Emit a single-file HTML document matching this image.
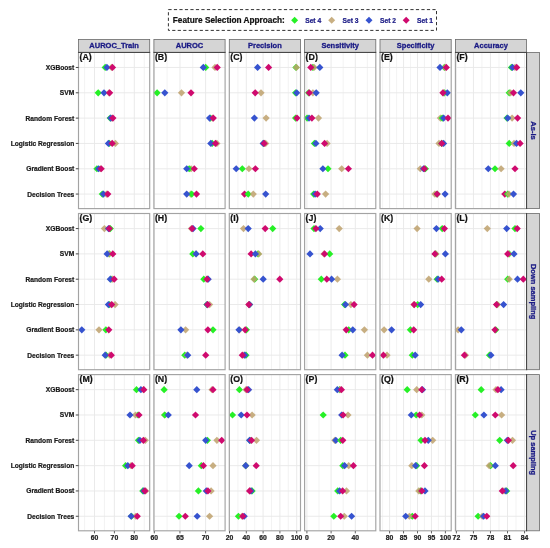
<!DOCTYPE html><html><head><meta charset="utf-8"><style>html,body{margin:0;padding:0;background:#fff;}svg{display:block;}text{font-family:"Liberation Sans",Arial,sans-serif;font-weight:bold;stroke-width:0.22px;}</style></head><body>
<svg width="550" height="548" viewBox="0 0 550 548">
<rect width="550" height="548" fill="#fff"/>
<rect x="168.4" y="9.6" width="268.1" height="20.8" fill="none" stroke="#333" stroke-width="1.0" stroke-dasharray="3.2 2.3"/>
<text x="172.8" y="23.2" font-size="8.25" fill="#111" stroke="#111">Feature Selection Approach:</text>
<path d="M294.60 16.70l3.5 3.5l-3.5 3.5l-3.5 -3.5z" fill="#26f026"/>
<text x="305.20" y="22.9" font-size="6.7" fill="#1a1a85" stroke="#1a1a85">Set 4</text>
<path d="M331.70 16.70l3.5 3.5l-3.5 3.5l-3.5 -3.5z" fill="#bea16c" fill-opacity="0.85"/>
<text x="342.60" y="22.9" font-size="6.7" fill="#1a1a85" stroke="#1a1a85">Set 3</text>
<path d="M369.00 16.70l3.5 3.5l-3.5 3.5l-3.5 -3.5z" fill="#3653cf"/>
<text x="380.10" y="22.9" font-size="6.7" fill="#1a1a85" stroke="#1a1a85">Set 2</text>
<path d="M406.20 16.70l3.5 3.5l-3.5 3.5l-3.5 -3.5z" fill="#cf0a6e"/>
<text x="417.00" y="22.9" font-size="6.7" fill="#1a1a85" stroke="#1a1a85">Set 1</text>
<g>
<rect x="78.50" y="52.40" width="71.20" height="156.20" fill="#fff"/>
<line x1="84.55" y1="52.40" x2="84.55" y2="208.60" stroke="#f0f0f0" stroke-width="0.8"/>
<line x1="104.45" y1="52.40" x2="104.45" y2="208.60" stroke="#f0f0f0" stroke-width="0.8"/>
<line x1="124.35" y1="52.40" x2="124.35" y2="208.60" stroke="#f0f0f0" stroke-width="0.8"/>
<line x1="144.25" y1="52.40" x2="144.25" y2="208.60" stroke="#f0f0f0" stroke-width="0.8"/>
<line x1="94.50" y1="52.40" x2="94.50" y2="208.60" stroke="#e8e8e8" stroke-width="0.9"/>
<line x1="114.40" y1="52.40" x2="114.40" y2="208.60" stroke="#e8e8e8" stroke-width="0.9"/>
<line x1="134.30" y1="52.40" x2="134.30" y2="208.60" stroke="#e8e8e8" stroke-width="0.9"/>
<line x1="78.50" y1="67.47" x2="149.70" y2="67.47" stroke="#e8e8e8" stroke-width="0.9"/>
<line x1="78.50" y1="92.79" x2="149.70" y2="92.79" stroke="#e8e8e8" stroke-width="0.9"/>
<line x1="78.50" y1="118.11" x2="149.70" y2="118.11" stroke="#e8e8e8" stroke-width="0.9"/>
<line x1="78.50" y1="143.43" x2="149.70" y2="143.43" stroke="#e8e8e8" stroke-width="0.9"/>
<line x1="78.50" y1="168.75" x2="149.70" y2="168.75" stroke="#e8e8e8" stroke-width="0.9"/>
<line x1="78.50" y1="194.07" x2="149.70" y2="194.07" stroke="#e8e8e8" stroke-width="0.9"/>
<g>
<path d="M105.20 63.87l3.6 3.6l-3.6 3.6l-3.6 -3.6z" fill="#26f026"/>
<path d="M111.50 63.87l3.6 3.6l-3.6 3.6l-3.6 -3.6z" fill="#bea16c" fill-opacity="0.85"/>
<path d="M106.90 63.87l3.6 3.6l-3.6 3.6l-3.6 -3.6z" fill="#3653cf"/>
<path d="M112.50 63.87l3.6 3.6l-3.6 3.6l-3.6 -3.6z" fill="#cf0a6e"/>
<path d="M98.20 89.19l3.6 3.6l-3.6 3.6l-3.6 -3.6z" fill="#26f026"/>
<path d="M109.00 89.19l3.6 3.6l-3.6 3.6l-3.6 -3.6z" fill="#bea16c" fill-opacity="0.85"/>
<path d="M104.00 89.19l3.6 3.6l-3.6 3.6l-3.6 -3.6z" fill="#3653cf"/>
<path d="M109.60 89.19l3.6 3.6l-3.6 3.6l-3.6 -3.6z" fill="#cf0a6e"/>
<path d="M110.20 114.51l3.6 3.6l-3.6 3.6l-3.6 -3.6z" fill="#26f026"/>
<path d="M112.00 114.51l3.6 3.6l-3.6 3.6l-3.6 -3.6z" fill="#bea16c" fill-opacity="0.85"/>
<path d="M110.70 114.51l3.6 3.6l-3.6 3.6l-3.6 -3.6z" fill="#3653cf"/>
<path d="M112.90 114.51l3.6 3.6l-3.6 3.6l-3.6 -3.6z" fill="#cf0a6e"/>
<path d="M109.30 139.83l3.6 3.6l-3.6 3.6l-3.6 -3.6z" fill="#26f026"/>
<path d="M115.40 139.83l3.6 3.6l-3.6 3.6l-3.6 -3.6z" fill="#bea16c" fill-opacity="0.85"/>
<path d="M108.40 139.83l3.6 3.6l-3.6 3.6l-3.6 -3.6z" fill="#3653cf"/>
<path d="M112.20 139.83l3.6 3.6l-3.6 3.6l-3.6 -3.6z" fill="#cf0a6e"/>
<path d="M96.90 165.15l3.6 3.6l-3.6 3.6l-3.6 -3.6z" fill="#26f026"/>
<path d="M100.50 165.15l3.6 3.6l-3.6 3.6l-3.6 -3.6z" fill="#bea16c" fill-opacity="0.85"/>
<path d="M98.60 165.15l3.6 3.6l-3.6 3.6l-3.6 -3.6z" fill="#3653cf"/>
<path d="M101.20 165.15l3.6 3.6l-3.6 3.6l-3.6 -3.6z" fill="#cf0a6e"/>
<path d="M102.30 190.47l3.6 3.6l-3.6 3.6l-3.6 -3.6z" fill="#26f026"/>
<path d="M106.50 190.47l3.6 3.6l-3.6 3.6l-3.6 -3.6z" fill="#bea16c" fill-opacity="0.85"/>
<path d="M103.40 190.47l3.6 3.6l-3.6 3.6l-3.6 -3.6z" fill="#3653cf"/>
<path d="M107.80 190.47l3.6 3.6l-3.6 3.6l-3.6 -3.6z" fill="#cf0a6e"/>
</g>
<rect x="78.50" y="52.40" width="71.20" height="156.20" fill="none" stroke="#a3a3a3" stroke-width="1.15"/>
<text x="79.50" y="59.80" font-size="8.8" fill="#111" stroke="#111">(A)</text>
</g>
<g>
<rect x="153.90" y="52.40" width="71.20" height="156.20" fill="#fff"/>
<line x1="167.12" y1="52.40" x2="167.12" y2="208.60" stroke="#f0f0f0" stroke-width="0.8"/>
<line x1="192.78" y1="52.40" x2="192.78" y2="208.60" stroke="#f0f0f0" stroke-width="0.8"/>
<line x1="218.43" y1="52.40" x2="218.43" y2="208.60" stroke="#f0f0f0" stroke-width="0.8"/>
<line x1="154.30" y1="52.40" x2="154.30" y2="208.60" stroke="#e8e8e8" stroke-width="0.9"/>
<line x1="179.95" y1="52.40" x2="179.95" y2="208.60" stroke="#e8e8e8" stroke-width="0.9"/>
<line x1="205.60" y1="52.40" x2="205.60" y2="208.60" stroke="#e8e8e8" stroke-width="0.9"/>
<line x1="153.90" y1="67.47" x2="225.10" y2="67.47" stroke="#e8e8e8" stroke-width="0.9"/>
<line x1="153.90" y1="92.79" x2="225.10" y2="92.79" stroke="#e8e8e8" stroke-width="0.9"/>
<line x1="153.90" y1="118.11" x2="225.10" y2="118.11" stroke="#e8e8e8" stroke-width="0.9"/>
<line x1="153.90" y1="143.43" x2="225.10" y2="143.43" stroke="#e8e8e8" stroke-width="0.9"/>
<line x1="153.90" y1="168.75" x2="225.10" y2="168.75" stroke="#e8e8e8" stroke-width="0.9"/>
<line x1="153.90" y1="194.07" x2="225.10" y2="194.07" stroke="#e8e8e8" stroke-width="0.9"/>
<g>
<path d="M205.70 63.87l3.6 3.6l-3.6 3.6l-3.6 -3.6z" fill="#26f026"/>
<path d="M215.00 63.87l3.6 3.6l-3.6 3.6l-3.6 -3.6z" fill="#bea16c" fill-opacity="0.85"/>
<path d="M203.30 63.87l3.6 3.6l-3.6 3.6l-3.6 -3.6z" fill="#3653cf"/>
<path d="M217.20 63.87l3.6 3.6l-3.6 3.6l-3.6 -3.6z" fill="#cf0a6e"/>
<path d="M157.10 89.19l3.6 3.6l-3.6 3.6l-3.6 -3.6z" fill="#26f026"/>
<path d="M181.50 89.19l3.6 3.6l-3.6 3.6l-3.6 -3.6z" fill="#bea16c" fill-opacity="0.85"/>
<path d="M164.80 89.19l3.6 3.6l-3.6 3.6l-3.6 -3.6z" fill="#3653cf"/>
<path d="M191.00 89.19l3.6 3.6l-3.6 3.6l-3.6 -3.6z" fill="#cf0a6e"/>
<path d="M210.50 114.51l3.6 3.6l-3.6 3.6l-3.6 -3.6z" fill="#26f026"/>
<path d="M212.50 114.51l3.6 3.6l-3.6 3.6l-3.6 -3.6z" fill="#bea16c" fill-opacity="0.85"/>
<path d="M209.60 114.51l3.6 3.6l-3.6 3.6l-3.6 -3.6z" fill="#3653cf"/>
<path d="M213.30 114.51l3.6 3.6l-3.6 3.6l-3.6 -3.6z" fill="#cf0a6e"/>
<path d="M212.20 139.83l3.6 3.6l-3.6 3.6l-3.6 -3.6z" fill="#26f026"/>
<path d="M216.90 139.83l3.6 3.6l-3.6 3.6l-3.6 -3.6z" fill="#bea16c" fill-opacity="0.85"/>
<path d="M210.80 139.83l3.6 3.6l-3.6 3.6l-3.6 -3.6z" fill="#3653cf"/>
<path d="M215.50 139.83l3.6 3.6l-3.6 3.6l-3.6 -3.6z" fill="#cf0a6e"/>
<path d="M191.10 165.15l3.6 3.6l-3.6 3.6l-3.6 -3.6z" fill="#bea16c" fill-opacity="0.85"/>
<path d="M189.20 165.15l3.6 3.6l-3.6 3.6l-3.6 -3.6z" fill="#26f026"/>
<path d="M186.70 165.15l3.6 3.6l-3.6 3.6l-3.6 -3.6z" fill="#3653cf"/>
<path d="M194.30 165.15l3.6 3.6l-3.6 3.6l-3.6 -3.6z" fill="#cf0a6e"/>
<path d="M190.70 190.47l3.6 3.6l-3.6 3.6l-3.6 -3.6z" fill="#bea16c" fill-opacity="0.85"/>
<path d="M191.70 190.47l3.6 3.6l-3.6 3.6l-3.6 -3.6z" fill="#26f026"/>
<path d="M186.70 190.47l3.6 3.6l-3.6 3.6l-3.6 -3.6z" fill="#3653cf"/>
<path d="M196.50 190.47l3.6 3.6l-3.6 3.6l-3.6 -3.6z" fill="#cf0a6e"/>
</g>
<rect x="153.90" y="52.40" width="71.20" height="156.20" fill="none" stroke="#a3a3a3" stroke-width="1.15"/>
<text x="154.90" y="59.80" font-size="8.8" fill="#111" stroke="#111">(B)</text>
</g>
<g>
<rect x="229.30" y="52.40" width="71.20" height="156.20" fill="#fff"/>
<line x1="237.90" y1="52.40" x2="237.90" y2="208.60" stroke="#f0f0f0" stroke-width="0.8"/>
<line x1="254.70" y1="52.40" x2="254.70" y2="208.60" stroke="#f0f0f0" stroke-width="0.8"/>
<line x1="271.50" y1="52.40" x2="271.50" y2="208.60" stroke="#f0f0f0" stroke-width="0.8"/>
<line x1="288.30" y1="52.40" x2="288.30" y2="208.60" stroke="#f0f0f0" stroke-width="0.8"/>
<line x1="229.50" y1="52.40" x2="229.50" y2="208.60" stroke="#e8e8e8" stroke-width="0.9"/>
<line x1="246.30" y1="52.40" x2="246.30" y2="208.60" stroke="#e8e8e8" stroke-width="0.9"/>
<line x1="263.10" y1="52.40" x2="263.10" y2="208.60" stroke="#e8e8e8" stroke-width="0.9"/>
<line x1="279.90" y1="52.40" x2="279.90" y2="208.60" stroke="#e8e8e8" stroke-width="0.9"/>
<line x1="296.70" y1="52.40" x2="296.70" y2="208.60" stroke="#e8e8e8" stroke-width="0.9"/>
<line x1="229.30" y1="67.47" x2="300.50" y2="67.47" stroke="#e8e8e8" stroke-width="0.9"/>
<line x1="229.30" y1="92.79" x2="300.50" y2="92.79" stroke="#e8e8e8" stroke-width="0.9"/>
<line x1="229.30" y1="118.11" x2="300.50" y2="118.11" stroke="#e8e8e8" stroke-width="0.9"/>
<line x1="229.30" y1="143.43" x2="300.50" y2="143.43" stroke="#e8e8e8" stroke-width="0.9"/>
<line x1="229.30" y1="168.75" x2="300.50" y2="168.75" stroke="#e8e8e8" stroke-width="0.9"/>
<line x1="229.30" y1="194.07" x2="300.50" y2="194.07" stroke="#e8e8e8" stroke-width="0.9"/>
<g>
<path d="M296.00 63.87l3.6 3.6l-3.6 3.6l-3.6 -3.6z" fill="#26f026"/>
<path d="M296.40 63.87l3.6 3.6l-3.6 3.6l-3.6 -3.6z" fill="#bea16c" fill-opacity="0.85"/>
<path d="M257.60 63.87l3.6 3.6l-3.6 3.6l-3.6 -3.6z" fill="#3653cf"/>
<path d="M268.60 63.87l3.6 3.6l-3.6 3.6l-3.6 -3.6z" fill="#cf0a6e"/>
<path d="M261.00 89.19l3.6 3.6l-3.6 3.6l-3.6 -3.6z" fill="#bea16c" fill-opacity="0.85"/>
<path d="M255.20 89.19l3.6 3.6l-3.6 3.6l-3.6 -3.6z" fill="#cf0a6e"/>
<path d="M295.60 89.19l3.6 3.6l-3.6 3.6l-3.6 -3.6z" fill="#26f026"/>
<path d="M296.70 89.19l3.6 3.6l-3.6 3.6l-3.6 -3.6z" fill="#3653cf"/>
<path d="M295.60 114.51l3.6 3.6l-3.6 3.6l-3.6 -3.6z" fill="#26f026"/>
<path d="M266.10 114.51l3.6 3.6l-3.6 3.6l-3.6 -3.6z" fill="#bea16c" fill-opacity="0.85"/>
<path d="M254.40 114.51l3.6 3.6l-3.6 3.6l-3.6 -3.6z" fill="#3653cf"/>
<path d="M297.00 114.51l3.6 3.6l-3.6 3.6l-3.6 -3.6z" fill="#cf0a6e"/>
<path d="M263.60 139.83l3.6 3.6l-3.6 3.6l-3.6 -3.6z" fill="#26f026"/>
<path d="M263.20 139.83l3.6 3.6l-3.6 3.6l-3.6 -3.6z" fill="#3653cf"/>
<path d="M265.70 139.83l3.6 3.6l-3.6 3.6l-3.6 -3.6z" fill="#bea16c" fill-opacity="0.85"/>
<path d="M264.20 139.83l3.6 3.6l-3.6 3.6l-3.6 -3.6z" fill="#cf0a6e"/>
<path d="M242.30 165.15l3.6 3.6l-3.6 3.6l-3.6 -3.6z" fill="#26f026"/>
<path d="M248.90 165.15l3.6 3.6l-3.6 3.6l-3.6 -3.6z" fill="#bea16c" fill-opacity="0.85"/>
<path d="M236.20 165.15l3.6 3.6l-3.6 3.6l-3.6 -3.6z" fill="#3653cf"/>
<path d="M255.40 165.15l3.6 3.6l-3.6 3.6l-3.6 -3.6z" fill="#cf0a6e"/>
<path d="M244.50 190.47l3.6 3.6l-3.6 3.6l-3.6 -3.6z" fill="#cf0a6e"/>
<path d="M248.20 190.47l3.6 3.6l-3.6 3.6l-3.6 -3.6z" fill="#26f026"/>
<path d="M253.30 190.47l3.6 3.6l-3.6 3.6l-3.6 -3.6z" fill="#bea16c" fill-opacity="0.85"/>
<path d="M265.70 190.47l3.6 3.6l-3.6 3.6l-3.6 -3.6z" fill="#3653cf"/>
</g>
<rect x="229.30" y="52.40" width="71.20" height="156.20" fill="none" stroke="#a3a3a3" stroke-width="1.15"/>
<text x="230.30" y="59.80" font-size="8.8" fill="#111" stroke="#111">(C)</text>
</g>
<g>
<rect x="304.60" y="52.40" width="71.20" height="156.20" fill="#fff"/>
<line x1="319.00" y1="52.40" x2="319.00" y2="208.60" stroke="#f0f0f0" stroke-width="0.8"/>
<line x1="343.20" y1="52.40" x2="343.20" y2="208.60" stroke="#f0f0f0" stroke-width="0.8"/>
<line x1="367.40" y1="52.40" x2="367.40" y2="208.60" stroke="#f0f0f0" stroke-width="0.8"/>
<line x1="306.90" y1="52.40" x2="306.90" y2="208.60" stroke="#e8e8e8" stroke-width="0.9"/>
<line x1="331.10" y1="52.40" x2="331.10" y2="208.60" stroke="#e8e8e8" stroke-width="0.9"/>
<line x1="355.30" y1="52.40" x2="355.30" y2="208.60" stroke="#e8e8e8" stroke-width="0.9"/>
<line x1="304.60" y1="67.47" x2="375.80" y2="67.47" stroke="#e8e8e8" stroke-width="0.9"/>
<line x1="304.60" y1="92.79" x2="375.80" y2="92.79" stroke="#e8e8e8" stroke-width="0.9"/>
<line x1="304.60" y1="118.11" x2="375.80" y2="118.11" stroke="#e8e8e8" stroke-width="0.9"/>
<line x1="304.60" y1="143.43" x2="375.80" y2="143.43" stroke="#e8e8e8" stroke-width="0.9"/>
<line x1="304.60" y1="168.75" x2="375.80" y2="168.75" stroke="#e8e8e8" stroke-width="0.9"/>
<line x1="304.60" y1="194.07" x2="375.80" y2="194.07" stroke="#e8e8e8" stroke-width="0.9"/>
<g>
<path d="M312.90 63.87l3.6 3.6l-3.6 3.6l-3.6 -3.6z" fill="#26f026"/>
<path d="M314.10 63.87l3.6 3.6l-3.6 3.6l-3.6 -3.6z" fill="#bea16c" fill-opacity="0.85"/>
<path d="M319.80 63.87l3.6 3.6l-3.6 3.6l-3.6 -3.6z" fill="#3653cf"/>
<path d="M310.80 63.87l3.6 3.6l-3.6 3.6l-3.6 -3.6z" fill="#cf0a6e"/>
<path d="M308.60 89.19l3.6 3.6l-3.6 3.6l-3.6 -3.6z" fill="#26f026"/>
<path d="M312.90 89.19l3.6 3.6l-3.6 3.6l-3.6 -3.6z" fill="#bea16c" fill-opacity="0.85"/>
<path d="M316.20 89.19l3.6 3.6l-3.6 3.6l-3.6 -3.6z" fill="#3653cf"/>
<path d="M309.30 89.19l3.6 3.6l-3.6 3.6l-3.6 -3.6z" fill="#cf0a6e"/>
<path d="M307.10 114.51l3.6 3.6l-3.6 3.6l-3.6 -3.6z" fill="#26f026"/>
<path d="M318.50 114.51l3.6 3.6l-3.6 3.6l-3.6 -3.6z" fill="#bea16c" fill-opacity="0.85"/>
<path d="M309.00 114.51l3.6 3.6l-3.6 3.6l-3.6 -3.6z" fill="#3653cf"/>
<path d="M311.90 114.51l3.6 3.6l-3.6 3.6l-3.6 -3.6z" fill="#cf0a6e"/>
<path d="M314.40 139.83l3.6 3.6l-3.6 3.6l-3.6 -3.6z" fill="#26f026"/>
<path d="M327.10 139.83l3.6 3.6l-3.6 3.6l-3.6 -3.6z" fill="#bea16c" fill-opacity="0.85"/>
<path d="M315.90 139.83l3.6 3.6l-3.6 3.6l-3.6 -3.6z" fill="#3653cf"/>
<path d="M324.60 139.83l3.6 3.6l-3.6 3.6l-3.6 -3.6z" fill="#cf0a6e"/>
<path d="M328.00 165.15l3.6 3.6l-3.6 3.6l-3.6 -3.6z" fill="#26f026"/>
<path d="M341.70 165.15l3.6 3.6l-3.6 3.6l-3.6 -3.6z" fill="#bea16c" fill-opacity="0.85"/>
<path d="M322.90 165.15l3.6 3.6l-3.6 3.6l-3.6 -3.6z" fill="#3653cf"/>
<path d="M348.40 165.15l3.6 3.6l-3.6 3.6l-3.6 -3.6z" fill="#cf0a6e"/>
<path d="M313.70 190.47l3.6 3.6l-3.6 3.6l-3.6 -3.6z" fill="#26f026"/>
<path d="M325.60 190.47l3.6 3.6l-3.6 3.6l-3.6 -3.6z" fill="#bea16c" fill-opacity="0.85"/>
<path d="M315.10 190.47l3.6 3.6l-3.6 3.6l-3.6 -3.6z" fill="#3653cf"/>
<path d="M317.30 190.47l3.6 3.6l-3.6 3.6l-3.6 -3.6z" fill="#cf0a6e"/>
</g>
<rect x="304.60" y="52.40" width="71.20" height="156.20" fill="none" stroke="#a3a3a3" stroke-width="1.15"/>
<text x="305.60" y="59.80" font-size="8.8" fill="#111" stroke="#111">(D)</text>
</g>
<g>
<rect x="380.00" y="52.40" width="71.20" height="156.20" fill="#fff"/>
<line x1="382.62" y1="52.40" x2="382.62" y2="208.60" stroke="#f0f0f0" stroke-width="0.8"/>
<line x1="396.58" y1="52.40" x2="396.58" y2="208.60" stroke="#f0f0f0" stroke-width="0.8"/>
<line x1="410.53" y1="52.40" x2="410.53" y2="208.60" stroke="#f0f0f0" stroke-width="0.8"/>
<line x1="424.48" y1="52.40" x2="424.48" y2="208.60" stroke="#f0f0f0" stroke-width="0.8"/>
<line x1="438.43" y1="52.40" x2="438.43" y2="208.60" stroke="#f0f0f0" stroke-width="0.8"/>
<line x1="389.60" y1="52.40" x2="389.60" y2="208.60" stroke="#e8e8e8" stroke-width="0.9"/>
<line x1="403.55" y1="52.40" x2="403.55" y2="208.60" stroke="#e8e8e8" stroke-width="0.9"/>
<line x1="417.50" y1="52.40" x2="417.50" y2="208.60" stroke="#e8e8e8" stroke-width="0.9"/>
<line x1="431.45" y1="52.40" x2="431.45" y2="208.60" stroke="#e8e8e8" stroke-width="0.9"/>
<line x1="445.40" y1="52.40" x2="445.40" y2="208.60" stroke="#e8e8e8" stroke-width="0.9"/>
<line x1="380.00" y1="67.47" x2="451.20" y2="67.47" stroke="#e8e8e8" stroke-width="0.9"/>
<line x1="380.00" y1="92.79" x2="451.20" y2="92.79" stroke="#e8e8e8" stroke-width="0.9"/>
<line x1="380.00" y1="118.11" x2="451.20" y2="118.11" stroke="#e8e8e8" stroke-width="0.9"/>
<line x1="380.00" y1="143.43" x2="451.20" y2="143.43" stroke="#e8e8e8" stroke-width="0.9"/>
<line x1="380.00" y1="168.75" x2="451.20" y2="168.75" stroke="#e8e8e8" stroke-width="0.9"/>
<line x1="380.00" y1="194.07" x2="451.20" y2="194.07" stroke="#e8e8e8" stroke-width="0.9"/>
<g>
<path d="M444.40 63.87l3.6 3.6l-3.6 3.6l-3.6 -3.6z" fill="#26f026"/>
<path d="M445.00 63.87l3.6 3.6l-3.6 3.6l-3.6 -3.6z" fill="#bea16c" fill-opacity="0.85"/>
<path d="M440.00 63.87l3.6 3.6l-3.6 3.6l-3.6 -3.6z" fill="#3653cf"/>
<path d="M446.30 63.87l3.6 3.6l-3.6 3.6l-3.6 -3.6z" fill="#cf0a6e"/>
<path d="M444.40 89.19l3.6 3.6l-3.6 3.6l-3.6 -3.6z" fill="#26f026"/>
<path d="M443.50 89.19l3.6 3.6l-3.6 3.6l-3.6 -3.6z" fill="#bea16c" fill-opacity="0.85"/>
<path d="M447.30 89.19l3.6 3.6l-3.6 3.6l-3.6 -3.6z" fill="#3653cf"/>
<path d="M442.90 89.19l3.6 3.6l-3.6 3.6l-3.6 -3.6z" fill="#cf0a6e"/>
<path d="M440.40 114.51l3.6 3.6l-3.6 3.6l-3.6 -3.6z" fill="#bea16c" fill-opacity="0.85"/>
<path d="M442.20 114.51l3.6 3.6l-3.6 3.6l-3.6 -3.6z" fill="#26f026"/>
<path d="M443.60 114.51l3.6 3.6l-3.6 3.6l-3.6 -3.6z" fill="#3653cf"/>
<path d="M448.00 114.51l3.6 3.6l-3.6 3.6l-3.6 -3.6z" fill="#cf0a6e"/>
<path d="M439.00 139.83l3.6 3.6l-3.6 3.6l-3.6 -3.6z" fill="#bea16c" fill-opacity="0.85"/>
<path d="M441.70 139.83l3.6 3.6l-3.6 3.6l-3.6 -3.6z" fill="#26f026"/>
<path d="M443.60 139.83l3.6 3.6l-3.6 3.6l-3.6 -3.6z" fill="#3653cf"/>
<path d="M441.70 139.83l3.6 3.6l-3.6 3.6l-3.6 -3.6z" fill="#cf0a6e"/>
<path d="M420.30 165.15l3.6 3.6l-3.6 3.6l-3.6 -3.6z" fill="#bea16c" fill-opacity="0.85"/>
<path d="M425.40 165.15l3.6 3.6l-3.6 3.6l-3.6 -3.6z" fill="#26f026"/>
<path d="M423.50 165.15l3.6 3.6l-3.6 3.6l-3.6 -3.6z" fill="#3653cf"/>
<path d="M424.40 165.15l3.6 3.6l-3.6 3.6l-3.6 -3.6z" fill="#cf0a6e"/>
<path d="M434.90 190.47l3.6 3.6l-3.6 3.6l-3.6 -3.6z" fill="#bea16c" fill-opacity="0.85"/>
<path d="M437.10 190.47l3.6 3.6l-3.6 3.6l-3.6 -3.6z" fill="#26f026"/>
<path d="M445.10 190.47l3.6 3.6l-3.6 3.6l-3.6 -3.6z" fill="#3653cf"/>
<path d="M437.10 190.47l3.6 3.6l-3.6 3.6l-3.6 -3.6z" fill="#cf0a6e"/>
</g>
<rect x="380.00" y="52.40" width="71.20" height="156.20" fill="none" stroke="#a3a3a3" stroke-width="1.15"/>
<text x="381.00" y="59.80" font-size="8.8" fill="#111" stroke="#111">(E)</text>
</g>
<g>
<rect x="455.40" y="52.40" width="71.20" height="156.20" fill="#fff"/>
<line x1="464.92" y1="52.40" x2="464.92" y2="208.60" stroke="#f0f0f0" stroke-width="0.8"/>
<line x1="481.96" y1="52.40" x2="481.96" y2="208.60" stroke="#f0f0f0" stroke-width="0.8"/>
<line x1="499.00" y1="52.40" x2="499.00" y2="208.60" stroke="#f0f0f0" stroke-width="0.8"/>
<line x1="516.04" y1="52.40" x2="516.04" y2="208.60" stroke="#f0f0f0" stroke-width="0.8"/>
<line x1="456.40" y1="52.40" x2="456.40" y2="208.60" stroke="#e8e8e8" stroke-width="0.9"/>
<line x1="473.44" y1="52.40" x2="473.44" y2="208.60" stroke="#e8e8e8" stroke-width="0.9"/>
<line x1="490.48" y1="52.40" x2="490.48" y2="208.60" stroke="#e8e8e8" stroke-width="0.9"/>
<line x1="507.52" y1="52.40" x2="507.52" y2="208.60" stroke="#e8e8e8" stroke-width="0.9"/>
<line x1="524.56" y1="52.40" x2="524.56" y2="208.60" stroke="#e8e8e8" stroke-width="0.9"/>
<line x1="455.40" y1="67.47" x2="526.60" y2="67.47" stroke="#e8e8e8" stroke-width="0.9"/>
<line x1="455.40" y1="92.79" x2="526.60" y2="92.79" stroke="#e8e8e8" stroke-width="0.9"/>
<line x1="455.40" y1="118.11" x2="526.60" y2="118.11" stroke="#e8e8e8" stroke-width="0.9"/>
<line x1="455.40" y1="143.43" x2="526.60" y2="143.43" stroke="#e8e8e8" stroke-width="0.9"/>
<line x1="455.40" y1="168.75" x2="526.60" y2="168.75" stroke="#e8e8e8" stroke-width="0.9"/>
<line x1="455.40" y1="194.07" x2="526.60" y2="194.07" stroke="#e8e8e8" stroke-width="0.9"/>
<g>
<path d="M511.40 63.87l3.6 3.6l-3.6 3.6l-3.6 -3.6z" fill="#26f026"/>
<path d="M515.00 63.87l3.6 3.6l-3.6 3.6l-3.6 -3.6z" fill="#bea16c" fill-opacity="0.85"/>
<path d="M512.50 63.87l3.6 3.6l-3.6 3.6l-3.6 -3.6z" fill="#3653cf"/>
<path d="M516.70 63.87l3.6 3.6l-3.6 3.6l-3.6 -3.6z" fill="#cf0a6e"/>
<path d="M509.20 89.19l3.6 3.6l-3.6 3.6l-3.6 -3.6z" fill="#26f026"/>
<path d="M510.60 89.19l3.6 3.6l-3.6 3.6l-3.6 -3.6z" fill="#bea16c" fill-opacity="0.85"/>
<path d="M520.80 89.19l3.6 3.6l-3.6 3.6l-3.6 -3.6z" fill="#3653cf"/>
<path d="M513.50 89.19l3.6 3.6l-3.6 3.6l-3.6 -3.6z" fill="#cf0a6e"/>
<path d="M507.00 114.51l3.6 3.6l-3.6 3.6l-3.6 -3.6z" fill="#26f026"/>
<path d="M512.10 114.51l3.6 3.6l-3.6 3.6l-3.6 -3.6z" fill="#bea16c" fill-opacity="0.85"/>
<path d="M507.70 114.51l3.6 3.6l-3.6 3.6l-3.6 -3.6z" fill="#3653cf"/>
<path d="M517.60 114.51l3.6 3.6l-3.6 3.6l-3.6 -3.6z" fill="#cf0a6e"/>
<path d="M509.20 139.83l3.6 3.6l-3.6 3.6l-3.6 -3.6z" fill="#26f026"/>
<path d="M514.00 139.83l3.6 3.6l-3.6 3.6l-3.6 -3.6z" fill="#bea16c" fill-opacity="0.85"/>
<path d="M516.50 139.83l3.6 3.6l-3.6 3.6l-3.6 -3.6z" fill="#3653cf"/>
<path d="M520.10 139.83l3.6 3.6l-3.6 3.6l-3.6 -3.6z" fill="#cf0a6e"/>
<path d="M495.00 165.15l3.6 3.6l-3.6 3.6l-3.6 -3.6z" fill="#26f026"/>
<path d="M501.10 165.15l3.6 3.6l-3.6 3.6l-3.6 -3.6z" fill="#bea16c" fill-opacity="0.85"/>
<path d="M488.30 165.15l3.6 3.6l-3.6 3.6l-3.6 -3.6z" fill="#3653cf"/>
<path d="M515.00 165.15l3.6 3.6l-3.6 3.6l-3.6 -3.6z" fill="#cf0a6e"/>
<path d="M504.80 190.47l3.6 3.6l-3.6 3.6l-3.6 -3.6z" fill="#cf0a6e"/>
<path d="M507.70 190.47l3.6 3.6l-3.6 3.6l-3.6 -3.6z" fill="#26f026"/>
<path d="M508.90 190.47l3.6 3.6l-3.6 3.6l-3.6 -3.6z" fill="#bea16c" fill-opacity="0.85"/>
<path d="M513.50 190.47l3.6 3.6l-3.6 3.6l-3.6 -3.6z" fill="#3653cf"/>
</g>
<rect x="455.40" y="52.40" width="71.20" height="156.20" fill="none" stroke="#a3a3a3" stroke-width="1.15"/>
<text x="456.40" y="59.80" font-size="8.8" fill="#111" stroke="#111">(F)</text>
</g>
<line x1="75.8" y1="67.47" x2="78.5" y2="67.47" stroke="#333" stroke-width="0.9"/>
<text x="74.3" y="69.92" font-size="6.67" fill="#1a1a1a" stroke="#1a1a1a" text-anchor="end">XGBoost</text>
<line x1="75.8" y1="92.79" x2="78.5" y2="92.79" stroke="#333" stroke-width="0.9"/>
<text x="74.3" y="95.24" font-size="6.67" fill="#1a1a1a" stroke="#1a1a1a" text-anchor="end">SVM</text>
<line x1="75.8" y1="118.11" x2="78.5" y2="118.11" stroke="#333" stroke-width="0.9"/>
<text x="74.3" y="120.56" font-size="6.67" fill="#1a1a1a" stroke="#1a1a1a" text-anchor="end">Random Forest</text>
<line x1="75.8" y1="143.43" x2="78.5" y2="143.43" stroke="#333" stroke-width="0.9"/>
<text x="74.3" y="145.88" font-size="6.67" fill="#1a1a1a" stroke="#1a1a1a" text-anchor="end">Logistic Regression</text>
<line x1="75.8" y1="168.75" x2="78.5" y2="168.75" stroke="#333" stroke-width="0.9"/>
<text x="74.3" y="171.20" font-size="6.67" fill="#1a1a1a" stroke="#1a1a1a" text-anchor="end">Gradient Boost</text>
<line x1="75.8" y1="194.07" x2="78.5" y2="194.07" stroke="#333" stroke-width="0.9"/>
<text x="74.3" y="196.52" font-size="6.67" fill="#1a1a1a" stroke="#1a1a1a" text-anchor="end">Decision Trees</text>
<g>
<rect x="78.50" y="213.50" width="71.20" height="156.20" fill="#fff"/>
<line x1="84.55" y1="213.50" x2="84.55" y2="369.70" stroke="#f0f0f0" stroke-width="0.8"/>
<line x1="104.45" y1="213.50" x2="104.45" y2="369.70" stroke="#f0f0f0" stroke-width="0.8"/>
<line x1="124.35" y1="213.50" x2="124.35" y2="369.70" stroke="#f0f0f0" stroke-width="0.8"/>
<line x1="144.25" y1="213.50" x2="144.25" y2="369.70" stroke="#f0f0f0" stroke-width="0.8"/>
<line x1="94.50" y1="213.50" x2="94.50" y2="369.70" stroke="#e8e8e8" stroke-width="0.9"/>
<line x1="114.40" y1="213.50" x2="114.40" y2="369.70" stroke="#e8e8e8" stroke-width="0.9"/>
<line x1="134.30" y1="213.50" x2="134.30" y2="369.70" stroke="#e8e8e8" stroke-width="0.9"/>
<line x1="78.50" y1="228.57" x2="149.70" y2="228.57" stroke="#e8e8e8" stroke-width="0.9"/>
<line x1="78.50" y1="253.89" x2="149.70" y2="253.89" stroke="#e8e8e8" stroke-width="0.9"/>
<line x1="78.50" y1="279.21" x2="149.70" y2="279.21" stroke="#e8e8e8" stroke-width="0.9"/>
<line x1="78.50" y1="304.53" x2="149.70" y2="304.53" stroke="#e8e8e8" stroke-width="0.9"/>
<line x1="78.50" y1="329.85" x2="149.70" y2="329.85" stroke="#e8e8e8" stroke-width="0.9"/>
<line x1="78.50" y1="355.17" x2="149.70" y2="355.17" stroke="#e8e8e8" stroke-width="0.9"/>
<g>
<path d="M104.40 224.97l3.6 3.6l-3.6 3.6l-3.6 -3.6z" fill="#bea16c" fill-opacity="0.85"/>
<path d="M108.50 224.97l3.6 3.6l-3.6 3.6l-3.6 -3.6z" fill="#3653cf"/>
<path d="M110.30 224.97l3.6 3.6l-3.6 3.6l-3.6 -3.6z" fill="#26f026"/>
<path d="M109.30 224.97l3.6 3.6l-3.6 3.6l-3.6 -3.6z" fill="#cf0a6e"/>
<path d="M109.30 250.29l3.6 3.6l-3.6 3.6l-3.6 -3.6z" fill="#26f026"/>
<path d="M109.00 250.29l3.6 3.6l-3.6 3.6l-3.6 -3.6z" fill="#bea16c" fill-opacity="0.85"/>
<path d="M107.10 250.29l3.6 3.6l-3.6 3.6l-3.6 -3.6z" fill="#3653cf"/>
<path d="M112.80 250.29l3.6 3.6l-3.6 3.6l-3.6 -3.6z" fill="#cf0a6e"/>
<path d="M111.00 275.61l3.6 3.6l-3.6 3.6l-3.6 -3.6z" fill="#26f026"/>
<path d="M112.50 275.61l3.6 3.6l-3.6 3.6l-3.6 -3.6z" fill="#bea16c" fill-opacity="0.85"/>
<path d="M110.30 275.61l3.6 3.6l-3.6 3.6l-3.6 -3.6z" fill="#3653cf"/>
<path d="M114.20 275.61l3.6 3.6l-3.6 3.6l-3.6 -3.6z" fill="#cf0a6e"/>
<path d="M109.60 300.93l3.6 3.6l-3.6 3.6l-3.6 -3.6z" fill="#26f026"/>
<path d="M115.10 300.93l3.6 3.6l-3.6 3.6l-3.6 -3.6z" fill="#bea16c" fill-opacity="0.85"/>
<path d="M108.40 300.93l3.6 3.6l-3.6 3.6l-3.6 -3.6z" fill="#3653cf"/>
<path d="M111.70 300.93l3.6 3.6l-3.6 3.6l-3.6 -3.6z" fill="#cf0a6e"/>
<path d="M105.90 326.25l3.6 3.6l-3.6 3.6l-3.6 -3.6z" fill="#26f026"/>
<path d="M99.00 326.25l3.6 3.6l-3.6 3.6l-3.6 -3.6z" fill="#bea16c" fill-opacity="0.85"/>
<path d="M81.80 326.25l3.6 3.6l-3.6 3.6l-3.6 -3.6z" fill="#3653cf"/>
<path d="M108.80 326.25l3.6 3.6l-3.6 3.6l-3.6 -3.6z" fill="#cf0a6e"/>
<path d="M106.00 351.57l3.6 3.6l-3.6 3.6l-3.6 -3.6z" fill="#26f026"/>
<path d="M109.80 351.57l3.6 3.6l-3.6 3.6l-3.6 -3.6z" fill="#bea16c" fill-opacity="0.85"/>
<path d="M105.20 351.57l3.6 3.6l-3.6 3.6l-3.6 -3.6z" fill="#3653cf"/>
<path d="M111.30 351.57l3.6 3.6l-3.6 3.6l-3.6 -3.6z" fill="#cf0a6e"/>
</g>
<rect x="78.50" y="213.50" width="71.20" height="156.20" fill="none" stroke="#a3a3a3" stroke-width="1.15"/>
<text x="79.50" y="220.90" font-size="8.8" fill="#111" stroke="#111">(G)</text>
</g>
<g>
<rect x="153.90" y="213.50" width="71.20" height="156.20" fill="#fff"/>
<line x1="167.12" y1="213.50" x2="167.12" y2="369.70" stroke="#f0f0f0" stroke-width="0.8"/>
<line x1="192.78" y1="213.50" x2="192.78" y2="369.70" stroke="#f0f0f0" stroke-width="0.8"/>
<line x1="218.43" y1="213.50" x2="218.43" y2="369.70" stroke="#f0f0f0" stroke-width="0.8"/>
<line x1="154.30" y1="213.50" x2="154.30" y2="369.70" stroke="#e8e8e8" stroke-width="0.9"/>
<line x1="179.95" y1="213.50" x2="179.95" y2="369.70" stroke="#e8e8e8" stroke-width="0.9"/>
<line x1="205.60" y1="213.50" x2="205.60" y2="369.70" stroke="#e8e8e8" stroke-width="0.9"/>
<line x1="153.90" y1="228.57" x2="225.10" y2="228.57" stroke="#e8e8e8" stroke-width="0.9"/>
<line x1="153.90" y1="253.89" x2="225.10" y2="253.89" stroke="#e8e8e8" stroke-width="0.9"/>
<line x1="153.90" y1="279.21" x2="225.10" y2="279.21" stroke="#e8e8e8" stroke-width="0.9"/>
<line x1="153.90" y1="304.53" x2="225.10" y2="304.53" stroke="#e8e8e8" stroke-width="0.9"/>
<line x1="153.90" y1="329.85" x2="225.10" y2="329.85" stroke="#e8e8e8" stroke-width="0.9"/>
<line x1="153.90" y1="355.17" x2="225.10" y2="355.17" stroke="#e8e8e8" stroke-width="0.9"/>
<g>
<path d="M200.90 224.97l3.6 3.6l-3.6 3.6l-3.6 -3.6z" fill="#26f026"/>
<path d="M191.40 224.97l3.6 3.6l-3.6 3.6l-3.6 -3.6z" fill="#bea16c" fill-opacity="0.85"/>
<path d="M193.10 224.97l3.6 3.6l-3.6 3.6l-3.6 -3.6z" fill="#3653cf"/>
<path d="M192.10 224.97l3.6 3.6l-3.6 3.6l-3.6 -3.6z" fill="#cf0a6e"/>
<path d="M192.80 250.29l3.6 3.6l-3.6 3.6l-3.6 -3.6z" fill="#26f026"/>
<path d="M196.00 250.29l3.6 3.6l-3.6 3.6l-3.6 -3.6z" fill="#bea16c" fill-opacity="0.85"/>
<path d="M196.10 250.29l3.6 3.6l-3.6 3.6l-3.6 -3.6z" fill="#3653cf"/>
<path d="M202.80 250.29l3.6 3.6l-3.6 3.6l-3.6 -3.6z" fill="#cf0a6e"/>
<path d="M203.80 275.61l3.6 3.6l-3.6 3.6l-3.6 -3.6z" fill="#26f026"/>
<path d="M207.50 275.61l3.6 3.6l-3.6 3.6l-3.6 -3.6z" fill="#bea16c" fill-opacity="0.85"/>
<path d="M208.20 275.61l3.6 3.6l-3.6 3.6l-3.6 -3.6z" fill="#3653cf"/>
<path d="M207.00 275.61l3.6 3.6l-3.6 3.6l-3.6 -3.6z" fill="#cf0a6e"/>
<path d="M207.00 300.93l3.6 3.6l-3.6 3.6l-3.6 -3.6z" fill="#26f026"/>
<path d="M207.20 300.93l3.6 3.6l-3.6 3.6l-3.6 -3.6z" fill="#3653cf"/>
<path d="M209.60 300.93l3.6 3.6l-3.6 3.6l-3.6 -3.6z" fill="#bea16c" fill-opacity="0.85"/>
<path d="M207.70 300.93l3.6 3.6l-3.6 3.6l-3.6 -3.6z" fill="#cf0a6e"/>
<path d="M213.00 326.25l3.6 3.6l-3.6 3.6l-3.6 -3.6z" fill="#26f026"/>
<path d="M185.60 326.25l3.6 3.6l-3.6 3.6l-3.6 -3.6z" fill="#bea16c" fill-opacity="0.85"/>
<path d="M180.90 326.25l3.6 3.6l-3.6 3.6l-3.6 -3.6z" fill="#3653cf"/>
<path d="M207.90 326.25l3.6 3.6l-3.6 3.6l-3.6 -3.6z" fill="#cf0a6e"/>
<path d="M184.80 351.57l3.6 3.6l-3.6 3.6l-3.6 -3.6z" fill="#26f026"/>
<path d="M187.00 351.57l3.6 3.6l-3.6 3.6l-3.6 -3.6z" fill="#bea16c" fill-opacity="0.85"/>
<path d="M187.70 351.57l3.6 3.6l-3.6 3.6l-3.6 -3.6z" fill="#3653cf"/>
<path d="M205.70 351.57l3.6 3.6l-3.6 3.6l-3.6 -3.6z" fill="#cf0a6e"/>
</g>
<rect x="153.90" y="213.50" width="71.20" height="156.20" fill="none" stroke="#a3a3a3" stroke-width="1.15"/>
<text x="154.90" y="220.90" font-size="8.8" fill="#111" stroke="#111">(H)</text>
</g>
<g>
<rect x="229.30" y="213.50" width="71.20" height="156.20" fill="#fff"/>
<line x1="237.90" y1="213.50" x2="237.90" y2="369.70" stroke="#f0f0f0" stroke-width="0.8"/>
<line x1="254.70" y1="213.50" x2="254.70" y2="369.70" stroke="#f0f0f0" stroke-width="0.8"/>
<line x1="271.50" y1="213.50" x2="271.50" y2="369.70" stroke="#f0f0f0" stroke-width="0.8"/>
<line x1="288.30" y1="213.50" x2="288.30" y2="369.70" stroke="#f0f0f0" stroke-width="0.8"/>
<line x1="229.50" y1="213.50" x2="229.50" y2="369.70" stroke="#e8e8e8" stroke-width="0.9"/>
<line x1="246.30" y1="213.50" x2="246.30" y2="369.70" stroke="#e8e8e8" stroke-width="0.9"/>
<line x1="263.10" y1="213.50" x2="263.10" y2="369.70" stroke="#e8e8e8" stroke-width="0.9"/>
<line x1="279.90" y1="213.50" x2="279.90" y2="369.70" stroke="#e8e8e8" stroke-width="0.9"/>
<line x1="296.70" y1="213.50" x2="296.70" y2="369.70" stroke="#e8e8e8" stroke-width="0.9"/>
<line x1="229.30" y1="228.57" x2="300.50" y2="228.57" stroke="#e8e8e8" stroke-width="0.9"/>
<line x1="229.30" y1="253.89" x2="300.50" y2="253.89" stroke="#e8e8e8" stroke-width="0.9"/>
<line x1="229.30" y1="279.21" x2="300.50" y2="279.21" stroke="#e8e8e8" stroke-width="0.9"/>
<line x1="229.30" y1="304.53" x2="300.50" y2="304.53" stroke="#e8e8e8" stroke-width="0.9"/>
<line x1="229.30" y1="329.85" x2="300.50" y2="329.85" stroke="#e8e8e8" stroke-width="0.9"/>
<line x1="229.30" y1="355.17" x2="300.50" y2="355.17" stroke="#e8e8e8" stroke-width="0.9"/>
<g>
<path d="M272.70 224.97l3.6 3.6l-3.6 3.6l-3.6 -3.6z" fill="#26f026"/>
<path d="M243.50 224.97l3.6 3.6l-3.6 3.6l-3.6 -3.6z" fill="#bea16c" fill-opacity="0.85"/>
<path d="M248.20 224.97l3.6 3.6l-3.6 3.6l-3.6 -3.6z" fill="#3653cf"/>
<path d="M265.20 224.97l3.6 3.6l-3.6 3.6l-3.6 -3.6z" fill="#cf0a6e"/>
<path d="M258.00 250.29l3.6 3.6l-3.6 3.6l-3.6 -3.6z" fill="#26f026"/>
<path d="M258.80 250.29l3.6 3.6l-3.6 3.6l-3.6 -3.6z" fill="#bea16c" fill-opacity="0.85"/>
<path d="M251.10 250.29l3.6 3.6l-3.6 3.6l-3.6 -3.6z" fill="#cf0a6e"/>
<path d="M255.40 250.29l3.6 3.6l-3.6 3.6l-3.6 -3.6z" fill="#3653cf"/>
<path d="M254.70 275.61l3.6 3.6l-3.6 3.6l-3.6 -3.6z" fill="#26f026"/>
<path d="M254.00 275.61l3.6 3.6l-3.6 3.6l-3.6 -3.6z" fill="#bea16c" fill-opacity="0.85"/>
<path d="M263.20 275.61l3.6 3.6l-3.6 3.6l-3.6 -3.6z" fill="#3653cf"/>
<path d="M279.80 275.61l3.6 3.6l-3.6 3.6l-3.6 -3.6z" fill="#cf0a6e"/>
<path d="M249.50 300.93l3.6 3.6l-3.6 3.6l-3.6 -3.6z" fill="#26f026"/>
<path d="M249.00 300.93l3.6 3.6l-3.6 3.6l-3.6 -3.6z" fill="#bea16c" fill-opacity="0.85"/>
<path d="M249.60 300.93l3.6 3.6l-3.6 3.6l-3.6 -3.6z" fill="#3653cf"/>
<path d="M248.90 300.93l3.6 3.6l-3.6 3.6l-3.6 -3.6z" fill="#cf0a6e"/>
<path d="M246.40 326.25l3.6 3.6l-3.6 3.6l-3.6 -3.6z" fill="#26f026"/>
<path d="M239.50 326.25l3.6 3.6l-3.6 3.6l-3.6 -3.6z" fill="#bea16c" fill-opacity="0.85"/>
<path d="M239.00 326.25l3.6 3.6l-3.6 3.6l-3.6 -3.6z" fill="#3653cf"/>
<path d="M245.20 326.25l3.6 3.6l-3.6 3.6l-3.6 -3.6z" fill="#cf0a6e"/>
<path d="M246.00 351.57l3.6 3.6l-3.6 3.6l-3.6 -3.6z" fill="#26f026"/>
<path d="M244.00 351.57l3.6 3.6l-3.6 3.6l-3.6 -3.6z" fill="#bea16c" fill-opacity="0.85"/>
<path d="M244.80 351.57l3.6 3.6l-3.6 3.6l-3.6 -3.6z" fill="#3653cf"/>
<path d="M242.30 351.57l3.6 3.6l-3.6 3.6l-3.6 -3.6z" fill="#cf0a6e"/>
</g>
<rect x="229.30" y="213.50" width="71.20" height="156.20" fill="none" stroke="#a3a3a3" stroke-width="1.15"/>
<text x="230.30" y="220.90" font-size="8.8" fill="#111" stroke="#111">(I)</text>
</g>
<g>
<rect x="304.60" y="213.50" width="71.20" height="156.20" fill="#fff"/>
<line x1="319.00" y1="213.50" x2="319.00" y2="369.70" stroke="#f0f0f0" stroke-width="0.8"/>
<line x1="343.20" y1="213.50" x2="343.20" y2="369.70" stroke="#f0f0f0" stroke-width="0.8"/>
<line x1="367.40" y1="213.50" x2="367.40" y2="369.70" stroke="#f0f0f0" stroke-width="0.8"/>
<line x1="306.90" y1="213.50" x2="306.90" y2="369.70" stroke="#e8e8e8" stroke-width="0.9"/>
<line x1="331.10" y1="213.50" x2="331.10" y2="369.70" stroke="#e8e8e8" stroke-width="0.9"/>
<line x1="355.30" y1="213.50" x2="355.30" y2="369.70" stroke="#e8e8e8" stroke-width="0.9"/>
<line x1="304.60" y1="228.57" x2="375.80" y2="228.57" stroke="#e8e8e8" stroke-width="0.9"/>
<line x1="304.60" y1="253.89" x2="375.80" y2="253.89" stroke="#e8e8e8" stroke-width="0.9"/>
<line x1="304.60" y1="279.21" x2="375.80" y2="279.21" stroke="#e8e8e8" stroke-width="0.9"/>
<line x1="304.60" y1="304.53" x2="375.80" y2="304.53" stroke="#e8e8e8" stroke-width="0.9"/>
<line x1="304.60" y1="329.85" x2="375.80" y2="329.85" stroke="#e8e8e8" stroke-width="0.9"/>
<line x1="304.60" y1="355.17" x2="375.80" y2="355.17" stroke="#e8e8e8" stroke-width="0.9"/>
<g>
<path d="M314.00 224.97l3.6 3.6l-3.6 3.6l-3.6 -3.6z" fill="#26f026"/>
<path d="M339.20 224.97l3.6 3.6l-3.6 3.6l-3.6 -3.6z" fill="#bea16c" fill-opacity="0.85"/>
<path d="M320.20 224.97l3.6 3.6l-3.6 3.6l-3.6 -3.6z" fill="#3653cf"/>
<path d="M315.90 224.97l3.6 3.6l-3.6 3.6l-3.6 -3.6z" fill="#cf0a6e"/>
<path d="M329.70 250.29l3.6 3.6l-3.6 3.6l-3.6 -3.6z" fill="#26f026"/>
<path d="M324.00 250.29l3.6 3.6l-3.6 3.6l-3.6 -3.6z" fill="#bea16c" fill-opacity="0.85"/>
<path d="M310.00 250.29l3.6 3.6l-3.6 3.6l-3.6 -3.6z" fill="#3653cf"/>
<path d="M324.60 250.29l3.6 3.6l-3.6 3.6l-3.6 -3.6z" fill="#cf0a6e"/>
<path d="M321.30 275.61l3.6 3.6l-3.6 3.6l-3.6 -3.6z" fill="#26f026"/>
<path d="M337.40 275.61l3.6 3.6l-3.6 3.6l-3.6 -3.6z" fill="#bea16c" fill-opacity="0.85"/>
<path d="M331.60 275.61l3.6 3.6l-3.6 3.6l-3.6 -3.6z" fill="#3653cf"/>
<path d="M326.80 275.61l3.6 3.6l-3.6 3.6l-3.6 -3.6z" fill="#cf0a6e"/>
<path d="M344.60 300.93l3.6 3.6l-3.6 3.6l-3.6 -3.6z" fill="#26f026"/>
<path d="M350.90 300.93l3.6 3.6l-3.6 3.6l-3.6 -3.6z" fill="#bea16c" fill-opacity="0.85"/>
<path d="M345.50 300.93l3.6 3.6l-3.6 3.6l-3.6 -3.6z" fill="#3653cf"/>
<path d="M354.10 300.93l3.6 3.6l-3.6 3.6l-3.6 -3.6z" fill="#cf0a6e"/>
<path d="M348.70 326.25l3.6 3.6l-3.6 3.6l-3.6 -3.6z" fill="#26f026"/>
<path d="M364.40 326.25l3.6 3.6l-3.6 3.6l-3.6 -3.6z" fill="#bea16c" fill-opacity="0.85"/>
<path d="M346.20 326.25l3.6 3.6l-3.6 3.6l-3.6 -3.6z" fill="#cf0a6e"/>
<path d="M352.80 326.25l3.6 3.6l-3.6 3.6l-3.6 -3.6z" fill="#3653cf"/>
<path d="M345.00 351.57l3.6 3.6l-3.6 3.6l-3.6 -3.6z" fill="#26f026"/>
<path d="M367.40 351.57l3.6 3.6l-3.6 3.6l-3.6 -3.6z" fill="#bea16c" fill-opacity="0.85"/>
<path d="M342.10 351.57l3.6 3.6l-3.6 3.6l-3.6 -3.6z" fill="#3653cf"/>
<path d="M372.50 351.57l3.6 3.6l-3.6 3.6l-3.6 -3.6z" fill="#cf0a6e"/>
</g>
<rect x="304.60" y="213.50" width="71.20" height="156.20" fill="none" stroke="#a3a3a3" stroke-width="1.15"/>
<text x="305.60" y="220.90" font-size="8.8" fill="#111" stroke="#111">(J)</text>
</g>
<g>
<rect x="380.00" y="213.50" width="71.20" height="156.20" fill="#fff"/>
<line x1="382.62" y1="213.50" x2="382.62" y2="369.70" stroke="#f0f0f0" stroke-width="0.8"/>
<line x1="396.58" y1="213.50" x2="396.58" y2="369.70" stroke="#f0f0f0" stroke-width="0.8"/>
<line x1="410.53" y1="213.50" x2="410.53" y2="369.70" stroke="#f0f0f0" stroke-width="0.8"/>
<line x1="424.48" y1="213.50" x2="424.48" y2="369.70" stroke="#f0f0f0" stroke-width="0.8"/>
<line x1="438.43" y1="213.50" x2="438.43" y2="369.70" stroke="#f0f0f0" stroke-width="0.8"/>
<line x1="389.60" y1="213.50" x2="389.60" y2="369.70" stroke="#e8e8e8" stroke-width="0.9"/>
<line x1="403.55" y1="213.50" x2="403.55" y2="369.70" stroke="#e8e8e8" stroke-width="0.9"/>
<line x1="417.50" y1="213.50" x2="417.50" y2="369.70" stroke="#e8e8e8" stroke-width="0.9"/>
<line x1="431.45" y1="213.50" x2="431.45" y2="369.70" stroke="#e8e8e8" stroke-width="0.9"/>
<line x1="445.40" y1="213.50" x2="445.40" y2="369.70" stroke="#e8e8e8" stroke-width="0.9"/>
<line x1="380.00" y1="228.57" x2="451.20" y2="228.57" stroke="#e8e8e8" stroke-width="0.9"/>
<line x1="380.00" y1="253.89" x2="451.20" y2="253.89" stroke="#e8e8e8" stroke-width="0.9"/>
<line x1="380.00" y1="279.21" x2="451.20" y2="279.21" stroke="#e8e8e8" stroke-width="0.9"/>
<line x1="380.00" y1="304.53" x2="451.20" y2="304.53" stroke="#e8e8e8" stroke-width="0.9"/>
<line x1="380.00" y1="329.85" x2="451.20" y2="329.85" stroke="#e8e8e8" stroke-width="0.9"/>
<line x1="380.00" y1="355.17" x2="451.20" y2="355.17" stroke="#e8e8e8" stroke-width="0.9"/>
<g>
<path d="M442.20 224.97l3.6 3.6l-3.6 3.6l-3.6 -3.6z" fill="#26f026"/>
<path d="M417.10 224.97l3.6 3.6l-3.6 3.6l-3.6 -3.6z" fill="#bea16c" fill-opacity="0.85"/>
<path d="M436.40 224.97l3.6 3.6l-3.6 3.6l-3.6 -3.6z" fill="#3653cf"/>
<path d="M444.40 224.97l3.6 3.6l-3.6 3.6l-3.6 -3.6z" fill="#cf0a6e"/>
<path d="M435.50 250.29l3.6 3.6l-3.6 3.6l-3.6 -3.6z" fill="#26f026"/>
<path d="M436.00 250.29l3.6 3.6l-3.6 3.6l-3.6 -3.6z" fill="#bea16c" fill-opacity="0.85"/>
<path d="M445.40 250.29l3.6 3.6l-3.6 3.6l-3.6 -3.6z" fill="#3653cf"/>
<path d="M434.90 250.29l3.6 3.6l-3.6 3.6l-3.6 -3.6z" fill="#cf0a6e"/>
<path d="M437.10 275.61l3.6 3.6l-3.6 3.6l-3.6 -3.6z" fill="#26f026"/>
<path d="M428.80 275.61l3.6 3.6l-3.6 3.6l-3.6 -3.6z" fill="#bea16c" fill-opacity="0.85"/>
<path d="M438.10 275.61l3.6 3.6l-3.6 3.6l-3.6 -3.6z" fill="#3653cf"/>
<path d="M441.70 275.61l3.6 3.6l-3.6 3.6l-3.6 -3.6z" fill="#cf0a6e"/>
<path d="M417.70 300.93l3.6 3.6l-3.6 3.6l-3.6 -3.6z" fill="#26f026"/>
<path d="M414.00 300.93l3.6 3.6l-3.6 3.6l-3.6 -3.6z" fill="#bea16c" fill-opacity="0.85"/>
<path d="M420.70 300.93l3.6 3.6l-3.6 3.6l-3.6 -3.6z" fill="#3653cf"/>
<path d="M414.20 300.93l3.6 3.6l-3.6 3.6l-3.6 -3.6z" fill="#cf0a6e"/>
<path d="M410.40 326.25l3.6 3.6l-3.6 3.6l-3.6 -3.6z" fill="#26f026"/>
<path d="M384.10 326.25l3.6 3.6l-3.6 3.6l-3.6 -3.6z" fill="#bea16c" fill-opacity="0.85"/>
<path d="M391.60 326.25l3.6 3.6l-3.6 3.6l-3.6 -3.6z" fill="#3653cf"/>
<path d="M413.70 326.25l3.6 3.6l-3.6 3.6l-3.6 -3.6z" fill="#cf0a6e"/>
<path d="M412.30 351.57l3.6 3.6l-3.6 3.6l-3.6 -3.6z" fill="#26f026"/>
<path d="M387.00 351.57l3.6 3.6l-3.6 3.6l-3.6 -3.6z" fill="#bea16c" fill-opacity="0.85"/>
<path d="M415.20 351.57l3.6 3.6l-3.6 3.6l-3.6 -3.6z" fill="#3653cf"/>
<path d="M383.40 351.57l3.6 3.6l-3.6 3.6l-3.6 -3.6z" fill="#cf0a6e"/>
</g>
<rect x="380.00" y="213.50" width="71.20" height="156.20" fill="none" stroke="#a3a3a3" stroke-width="1.15"/>
<text x="381.00" y="220.90" font-size="8.8" fill="#111" stroke="#111">(K)</text>
</g>
<g>
<rect x="455.40" y="213.50" width="71.20" height="156.20" fill="#fff"/>
<line x1="464.92" y1="213.50" x2="464.92" y2="369.70" stroke="#f0f0f0" stroke-width="0.8"/>
<line x1="481.96" y1="213.50" x2="481.96" y2="369.70" stroke="#f0f0f0" stroke-width="0.8"/>
<line x1="499.00" y1="213.50" x2="499.00" y2="369.70" stroke="#f0f0f0" stroke-width="0.8"/>
<line x1="516.04" y1="213.50" x2="516.04" y2="369.70" stroke="#f0f0f0" stroke-width="0.8"/>
<line x1="456.40" y1="213.50" x2="456.40" y2="369.70" stroke="#e8e8e8" stroke-width="0.9"/>
<line x1="473.44" y1="213.50" x2="473.44" y2="369.70" stroke="#e8e8e8" stroke-width="0.9"/>
<line x1="490.48" y1="213.50" x2="490.48" y2="369.70" stroke="#e8e8e8" stroke-width="0.9"/>
<line x1="507.52" y1="213.50" x2="507.52" y2="369.70" stroke="#e8e8e8" stroke-width="0.9"/>
<line x1="524.56" y1="213.50" x2="524.56" y2="369.70" stroke="#e8e8e8" stroke-width="0.9"/>
<line x1="455.40" y1="228.57" x2="526.60" y2="228.57" stroke="#e8e8e8" stroke-width="0.9"/>
<line x1="455.40" y1="253.89" x2="526.60" y2="253.89" stroke="#e8e8e8" stroke-width="0.9"/>
<line x1="455.40" y1="279.21" x2="526.60" y2="279.21" stroke="#e8e8e8" stroke-width="0.9"/>
<line x1="455.40" y1="304.53" x2="526.60" y2="304.53" stroke="#e8e8e8" stroke-width="0.9"/>
<line x1="455.40" y1="329.85" x2="526.60" y2="329.85" stroke="#e8e8e8" stroke-width="0.9"/>
<line x1="455.40" y1="355.17" x2="526.60" y2="355.17" stroke="#e8e8e8" stroke-width="0.9"/>
<g>
<path d="M515.00 224.97l3.6 3.6l-3.6 3.6l-3.6 -3.6z" fill="#26f026"/>
<path d="M487.30 224.97l3.6 3.6l-3.6 3.6l-3.6 -3.6z" fill="#bea16c" fill-opacity="0.85"/>
<path d="M506.70 224.97l3.6 3.6l-3.6 3.6l-3.6 -3.6z" fill="#3653cf"/>
<path d="M517.20 224.97l3.6 3.6l-3.6 3.6l-3.6 -3.6z" fill="#cf0a6e"/>
<path d="M509.20 250.29l3.6 3.6l-3.6 3.6l-3.6 -3.6z" fill="#26f026"/>
<path d="M508.50 250.29l3.6 3.6l-3.6 3.6l-3.6 -3.6z" fill="#bea16c" fill-opacity="0.85"/>
<path d="M514.00 250.29l3.6 3.6l-3.6 3.6l-3.6 -3.6z" fill="#3653cf"/>
<path d="M507.70 250.29l3.6 3.6l-3.6 3.6l-3.6 -3.6z" fill="#cf0a6e"/>
<path d="M507.70 275.61l3.6 3.6l-3.6 3.6l-3.6 -3.6z" fill="#26f026"/>
<path d="M509.20 275.61l3.6 3.6l-3.6 3.6l-3.6 -3.6z" fill="#bea16c" fill-opacity="0.85"/>
<path d="M517.50 275.61l3.6 3.6l-3.6 3.6l-3.6 -3.6z" fill="#3653cf"/>
<path d="M523.30 275.61l3.6 3.6l-3.6 3.6l-3.6 -3.6z" fill="#cf0a6e"/>
<path d="M497.00 300.93l3.6 3.6l-3.6 3.6l-3.6 -3.6z" fill="#26f026"/>
<path d="M497.50 300.93l3.6 3.6l-3.6 3.6l-3.6 -3.6z" fill="#bea16c" fill-opacity="0.85"/>
<path d="M503.60 300.93l3.6 3.6l-3.6 3.6l-3.6 -3.6z" fill="#3653cf"/>
<path d="M496.50 300.93l3.6 3.6l-3.6 3.6l-3.6 -3.6z" fill="#cf0a6e"/>
<path d="M495.80 326.25l3.6 3.6l-3.6 3.6l-3.6 -3.6z" fill="#26f026"/>
<path d="M458.10 326.25l3.6 3.6l-3.6 3.6l-3.6 -3.6z" fill="#bea16c" fill-opacity="0.85"/>
<path d="M461.30 326.25l3.6 3.6l-3.6 3.6l-3.6 -3.6z" fill="#3653cf"/>
<path d="M495.00 326.25l3.6 3.6l-3.6 3.6l-3.6 -3.6z" fill="#cf0a6e"/>
<path d="M489.50 351.57l3.6 3.6l-3.6 3.6l-3.6 -3.6z" fill="#26f026"/>
<path d="M465.50 351.57l3.6 3.6l-3.6 3.6l-3.6 -3.6z" fill="#bea16c" fill-opacity="0.85"/>
<path d="M490.90 351.57l3.6 3.6l-3.6 3.6l-3.6 -3.6z" fill="#3653cf"/>
<path d="M464.40 351.57l3.6 3.6l-3.6 3.6l-3.6 -3.6z" fill="#cf0a6e"/>
</g>
<rect x="455.40" y="213.50" width="71.20" height="156.20" fill="none" stroke="#a3a3a3" stroke-width="1.15"/>
<text x="456.40" y="220.90" font-size="8.8" fill="#111" stroke="#111">(L)</text>
</g>
<line x1="75.8" y1="228.57" x2="78.5" y2="228.57" stroke="#333" stroke-width="0.9"/>
<text x="74.3" y="231.02" font-size="6.67" fill="#1a1a1a" stroke="#1a1a1a" text-anchor="end">XGBoost</text>
<line x1="75.8" y1="253.89" x2="78.5" y2="253.89" stroke="#333" stroke-width="0.9"/>
<text x="74.3" y="256.34" font-size="6.67" fill="#1a1a1a" stroke="#1a1a1a" text-anchor="end">SVM</text>
<line x1="75.8" y1="279.21" x2="78.5" y2="279.21" stroke="#333" stroke-width="0.9"/>
<text x="74.3" y="281.66" font-size="6.67" fill="#1a1a1a" stroke="#1a1a1a" text-anchor="end">Random Forest</text>
<line x1="75.8" y1="304.53" x2="78.5" y2="304.53" stroke="#333" stroke-width="0.9"/>
<text x="74.3" y="306.98" font-size="6.67" fill="#1a1a1a" stroke="#1a1a1a" text-anchor="end">Logistic Regression</text>
<line x1="75.8" y1="329.85" x2="78.5" y2="329.85" stroke="#333" stroke-width="0.9"/>
<text x="74.3" y="332.30" font-size="6.67" fill="#1a1a1a" stroke="#1a1a1a" text-anchor="end">Gradient Boost</text>
<line x1="75.8" y1="355.17" x2="78.5" y2="355.17" stroke="#333" stroke-width="0.9"/>
<text x="74.3" y="357.62" font-size="6.67" fill="#1a1a1a" stroke="#1a1a1a" text-anchor="end">Decision Trees</text>
<g>
<rect x="78.50" y="374.60" width="71.20" height="156.20" fill="#fff"/>
<line x1="84.55" y1="374.60" x2="84.55" y2="530.80" stroke="#f0f0f0" stroke-width="0.8"/>
<line x1="104.45" y1="374.60" x2="104.45" y2="530.80" stroke="#f0f0f0" stroke-width="0.8"/>
<line x1="124.35" y1="374.60" x2="124.35" y2="530.80" stroke="#f0f0f0" stroke-width="0.8"/>
<line x1="144.25" y1="374.60" x2="144.25" y2="530.80" stroke="#f0f0f0" stroke-width="0.8"/>
<line x1="94.50" y1="374.60" x2="94.50" y2="530.80" stroke="#e8e8e8" stroke-width="0.9"/>
<line x1="114.40" y1="374.60" x2="114.40" y2="530.80" stroke="#e8e8e8" stroke-width="0.9"/>
<line x1="134.30" y1="374.60" x2="134.30" y2="530.80" stroke="#e8e8e8" stroke-width="0.9"/>
<line x1="78.50" y1="389.67" x2="149.70" y2="389.67" stroke="#e8e8e8" stroke-width="0.9"/>
<line x1="78.50" y1="414.99" x2="149.70" y2="414.99" stroke="#e8e8e8" stroke-width="0.9"/>
<line x1="78.50" y1="440.31" x2="149.70" y2="440.31" stroke="#e8e8e8" stroke-width="0.9"/>
<line x1="78.50" y1="465.63" x2="149.70" y2="465.63" stroke="#e8e8e8" stroke-width="0.9"/>
<line x1="78.50" y1="490.95" x2="149.70" y2="490.95" stroke="#e8e8e8" stroke-width="0.9"/>
<line x1="78.50" y1="516.27" x2="149.70" y2="516.27" stroke="#e8e8e8" stroke-width="0.9"/>
<g>
<path d="M136.50 386.07l3.6 3.6l-3.6 3.6l-3.6 -3.6z" fill="#26f026"/>
<path d="M143.50 386.07l3.6 3.6l-3.6 3.6l-3.6 -3.6z" fill="#bea16c" fill-opacity="0.85"/>
<path d="M140.90 386.07l3.6 3.6l-3.6 3.6l-3.6 -3.6z" fill="#3653cf"/>
<path d="M143.80 386.07l3.6 3.6l-3.6 3.6l-3.6 -3.6z" fill="#cf0a6e"/>
<path d="M138.00 411.39l3.6 3.6l-3.6 3.6l-3.6 -3.6z" fill="#26f026"/>
<path d="M135.50 411.39l3.6 3.6l-3.6 3.6l-3.6 -3.6z" fill="#bea16c" fill-opacity="0.85"/>
<path d="M130.00 411.39l3.6 3.6l-3.6 3.6l-3.6 -3.6z" fill="#3653cf"/>
<path d="M139.00 411.39l3.6 3.6l-3.6 3.6l-3.6 -3.6z" fill="#cf0a6e"/>
<path d="M138.40 436.71l3.6 3.6l-3.6 3.6l-3.6 -3.6z" fill="#26f026"/>
<path d="M145.30 436.71l3.6 3.6l-3.6 3.6l-3.6 -3.6z" fill="#bea16c" fill-opacity="0.85"/>
<path d="M139.90 436.71l3.6 3.6l-3.6 3.6l-3.6 -3.6z" fill="#3653cf"/>
<path d="M143.40 436.71l3.6 3.6l-3.6 3.6l-3.6 -3.6z" fill="#cf0a6e"/>
<path d="M125.60 462.03l3.6 3.6l-3.6 3.6l-3.6 -3.6z" fill="#26f026"/>
<path d="M131.00 462.03l3.6 3.6l-3.6 3.6l-3.6 -3.6z" fill="#bea16c" fill-opacity="0.85"/>
<path d="M127.80 462.03l3.6 3.6l-3.6 3.6l-3.6 -3.6z" fill="#3653cf"/>
<path d="M132.20 462.03l3.6 3.6l-3.6 3.6l-3.6 -3.6z" fill="#cf0a6e"/>
<path d="M142.80 487.35l3.6 3.6l-3.6 3.6l-3.6 -3.6z" fill="#26f026"/>
<path d="M145.70 487.35l3.6 3.6l-3.6 3.6l-3.6 -3.6z" fill="#bea16c" fill-opacity="0.85"/>
<path d="M143.80 487.35l3.6 3.6l-3.6 3.6l-3.6 -3.6z" fill="#3653cf"/>
<path d="M144.90 487.35l3.6 3.6l-3.6 3.6l-3.6 -3.6z" fill="#cf0a6e"/>
<path d="M131.50 512.67l3.6 3.6l-3.6 3.6l-3.6 -3.6z" fill="#26f026"/>
<path d="M135.80 512.67l3.6 3.6l-3.6 3.6l-3.6 -3.6z" fill="#bea16c" fill-opacity="0.85"/>
<path d="M131.10 512.67l3.6 3.6l-3.6 3.6l-3.6 -3.6z" fill="#3653cf"/>
<path d="M137.30 512.67l3.6 3.6l-3.6 3.6l-3.6 -3.6z" fill="#cf0a6e"/>
</g>
<rect x="78.50" y="374.60" width="71.20" height="156.20" fill="none" stroke="#a3a3a3" stroke-width="1.15"/>
<text x="79.50" y="382.00" font-size="8.8" fill="#111" stroke="#111">(M)</text>
</g>
<g>
<rect x="153.90" y="374.60" width="71.20" height="156.20" fill="#fff"/>
<line x1="167.12" y1="374.60" x2="167.12" y2="530.80" stroke="#f0f0f0" stroke-width="0.8"/>
<line x1="192.78" y1="374.60" x2="192.78" y2="530.80" stroke="#f0f0f0" stroke-width="0.8"/>
<line x1="218.43" y1="374.60" x2="218.43" y2="530.80" stroke="#f0f0f0" stroke-width="0.8"/>
<line x1="154.30" y1="374.60" x2="154.30" y2="530.80" stroke="#e8e8e8" stroke-width="0.9"/>
<line x1="179.95" y1="374.60" x2="179.95" y2="530.80" stroke="#e8e8e8" stroke-width="0.9"/>
<line x1="205.60" y1="374.60" x2="205.60" y2="530.80" stroke="#e8e8e8" stroke-width="0.9"/>
<line x1="153.90" y1="389.67" x2="225.10" y2="389.67" stroke="#e8e8e8" stroke-width="0.9"/>
<line x1="153.90" y1="414.99" x2="225.10" y2="414.99" stroke="#e8e8e8" stroke-width="0.9"/>
<line x1="153.90" y1="440.31" x2="225.10" y2="440.31" stroke="#e8e8e8" stroke-width="0.9"/>
<line x1="153.90" y1="465.63" x2="225.10" y2="465.63" stroke="#e8e8e8" stroke-width="0.9"/>
<line x1="153.90" y1="490.95" x2="225.10" y2="490.95" stroke="#e8e8e8" stroke-width="0.9"/>
<line x1="153.90" y1="516.27" x2="225.10" y2="516.27" stroke="#e8e8e8" stroke-width="0.9"/>
<g>
<path d="M164.10 386.07l3.6 3.6l-3.6 3.6l-3.6 -3.6z" fill="#26f026"/>
<path d="M212.00 386.07l3.6 3.6l-3.6 3.6l-3.6 -3.6z" fill="#bea16c" fill-opacity="0.85"/>
<path d="M196.80 386.07l3.6 3.6l-3.6 3.6l-3.6 -3.6z" fill="#3653cf"/>
<path d="M213.00 386.07l3.6 3.6l-3.6 3.6l-3.6 -3.6z" fill="#cf0a6e"/>
<path d="M164.50 411.39l3.6 3.6l-3.6 3.6l-3.6 -3.6z" fill="#bea16c" fill-opacity="0.85"/>
<path d="M164.80 411.39l3.6 3.6l-3.6 3.6l-3.6 -3.6z" fill="#26f026"/>
<path d="M168.30 411.39l3.6 3.6l-3.6 3.6l-3.6 -3.6z" fill="#3653cf"/>
<path d="M195.50 411.39l3.6 3.6l-3.6 3.6l-3.6 -3.6z" fill="#cf0a6e"/>
<path d="M207.40 436.71l3.6 3.6l-3.6 3.6l-3.6 -3.6z" fill="#26f026"/>
<path d="M216.90 436.71l3.6 3.6l-3.6 3.6l-3.6 -3.6z" fill="#bea16c" fill-opacity="0.85"/>
<path d="M205.70 436.71l3.6 3.6l-3.6 3.6l-3.6 -3.6z" fill="#3653cf"/>
<path d="M221.70 436.71l3.6 3.6l-3.6 3.6l-3.6 -3.6z" fill="#cf0a6e"/>
<path d="M201.30 462.03l3.6 3.6l-3.6 3.6l-3.6 -3.6z" fill="#26f026"/>
<path d="M213.00 462.03l3.6 3.6l-3.6 3.6l-3.6 -3.6z" fill="#bea16c" fill-opacity="0.85"/>
<path d="M189.20 462.03l3.6 3.6l-3.6 3.6l-3.6 -3.6z" fill="#3653cf"/>
<path d="M203.40 462.03l3.6 3.6l-3.6 3.6l-3.6 -3.6z" fill="#cf0a6e"/>
<path d="M198.40 487.35l3.6 3.6l-3.6 3.6l-3.6 -3.6z" fill="#26f026"/>
<path d="M211.10 487.35l3.6 3.6l-3.6 3.6l-3.6 -3.6z" fill="#bea16c" fill-opacity="0.85"/>
<path d="M206.30 487.35l3.6 3.6l-3.6 3.6l-3.6 -3.6z" fill="#3653cf"/>
<path d="M207.90 487.35l3.6 3.6l-3.6 3.6l-3.6 -3.6z" fill="#cf0a6e"/>
<path d="M179.00 512.67l3.6 3.6l-3.6 3.6l-3.6 -3.6z" fill="#26f026"/>
<path d="M209.60 512.67l3.6 3.6l-3.6 3.6l-3.6 -3.6z" fill="#bea16c" fill-opacity="0.85"/>
<path d="M197.20 512.67l3.6 3.6l-3.6 3.6l-3.6 -3.6z" fill="#3653cf"/>
<path d="M185.30 512.67l3.6 3.6l-3.6 3.6l-3.6 -3.6z" fill="#cf0a6e"/>
</g>
<rect x="153.90" y="374.60" width="71.20" height="156.20" fill="none" stroke="#a3a3a3" stroke-width="1.15"/>
<text x="154.90" y="382.00" font-size="8.8" fill="#111" stroke="#111">(N)</text>
</g>
<g>
<rect x="229.30" y="374.60" width="71.20" height="156.20" fill="#fff"/>
<line x1="237.90" y1="374.60" x2="237.90" y2="530.80" stroke="#f0f0f0" stroke-width="0.8"/>
<line x1="254.70" y1="374.60" x2="254.70" y2="530.80" stroke="#f0f0f0" stroke-width="0.8"/>
<line x1="271.50" y1="374.60" x2="271.50" y2="530.80" stroke="#f0f0f0" stroke-width="0.8"/>
<line x1="288.30" y1="374.60" x2="288.30" y2="530.80" stroke="#f0f0f0" stroke-width="0.8"/>
<line x1="229.50" y1="374.60" x2="229.50" y2="530.80" stroke="#e8e8e8" stroke-width="0.9"/>
<line x1="246.30" y1="374.60" x2="246.30" y2="530.80" stroke="#e8e8e8" stroke-width="0.9"/>
<line x1="263.10" y1="374.60" x2="263.10" y2="530.80" stroke="#e8e8e8" stroke-width="0.9"/>
<line x1="279.90" y1="374.60" x2="279.90" y2="530.80" stroke="#e8e8e8" stroke-width="0.9"/>
<line x1="296.70" y1="374.60" x2="296.70" y2="530.80" stroke="#e8e8e8" stroke-width="0.9"/>
<line x1="229.30" y1="389.67" x2="300.50" y2="389.67" stroke="#e8e8e8" stroke-width="0.9"/>
<line x1="229.30" y1="414.99" x2="300.50" y2="414.99" stroke="#e8e8e8" stroke-width="0.9"/>
<line x1="229.30" y1="440.31" x2="300.50" y2="440.31" stroke="#e8e8e8" stroke-width="0.9"/>
<line x1="229.30" y1="465.63" x2="300.50" y2="465.63" stroke="#e8e8e8" stroke-width="0.9"/>
<line x1="229.30" y1="490.95" x2="300.50" y2="490.95" stroke="#e8e8e8" stroke-width="0.9"/>
<line x1="229.30" y1="516.27" x2="300.50" y2="516.27" stroke="#e8e8e8" stroke-width="0.9"/>
<g>
<path d="M239.40 386.07l3.6 3.6l-3.6 3.6l-3.6 -3.6z" fill="#26f026"/>
<path d="M246.00 386.07l3.6 3.6l-3.6 3.6l-3.6 -3.6z" fill="#bea16c" fill-opacity="0.85"/>
<path d="M248.60 386.07l3.6 3.6l-3.6 3.6l-3.6 -3.6z" fill="#3653cf"/>
<path d="M247.10 386.07l3.6 3.6l-3.6 3.6l-3.6 -3.6z" fill="#cf0a6e"/>
<path d="M232.50 411.39l3.6 3.6l-3.6 3.6l-3.6 -3.6z" fill="#26f026"/>
<path d="M252.10 411.39l3.6 3.6l-3.6 3.6l-3.6 -3.6z" fill="#bea16c" fill-opacity="0.85"/>
<path d="M241.20 411.39l3.6 3.6l-3.6 3.6l-3.6 -3.6z" fill="#3653cf"/>
<path d="M247.00 411.39l3.6 3.6l-3.6 3.6l-3.6 -3.6z" fill="#cf0a6e"/>
<path d="M250.00 436.71l3.6 3.6l-3.6 3.6l-3.6 -3.6z" fill="#26f026"/>
<path d="M256.50 436.71l3.6 3.6l-3.6 3.6l-3.6 -3.6z" fill="#bea16c" fill-opacity="0.85"/>
<path d="M249.60 436.71l3.6 3.6l-3.6 3.6l-3.6 -3.6z" fill="#3653cf"/>
<path d="M251.50 436.71l3.6 3.6l-3.6 3.6l-3.6 -3.6z" fill="#cf0a6e"/>
<path d="M245.70 462.03l3.6 3.6l-3.6 3.6l-3.6 -3.6z" fill="#26f026"/>
<path d="M245.70 462.03l3.6 3.6l-3.6 3.6l-3.6 -3.6z" fill="#bea16c" fill-opacity="0.85"/>
<path d="M245.70 462.03l3.6 3.6l-3.6 3.6l-3.6 -3.6z" fill="#3653cf"/>
<path d="M256.20 462.03l3.6 3.6l-3.6 3.6l-3.6 -3.6z" fill="#cf0a6e"/>
<path d="M252.10 487.35l3.6 3.6l-3.6 3.6l-3.6 -3.6z" fill="#26f026"/>
<path d="M250.00 487.35l3.6 3.6l-3.6 3.6l-3.6 -3.6z" fill="#bea16c" fill-opacity="0.85"/>
<path d="M251.10 487.35l3.6 3.6l-3.6 3.6l-3.6 -3.6z" fill="#3653cf"/>
<path d="M249.60 487.35l3.6 3.6l-3.6 3.6l-3.6 -3.6z" fill="#cf0a6e"/>
<path d="M238.40 512.67l3.6 3.6l-3.6 3.6l-3.6 -3.6z" fill="#26f026"/>
<path d="M242.00 512.67l3.6 3.6l-3.6 3.6l-3.6 -3.6z" fill="#bea16c" fill-opacity="0.85"/>
<path d="M244.20 512.67l3.6 3.6l-3.6 3.6l-3.6 -3.6z" fill="#3653cf"/>
<path d="M242.80 512.67l3.6 3.6l-3.6 3.6l-3.6 -3.6z" fill="#cf0a6e"/>
</g>
<rect x="229.30" y="374.60" width="71.20" height="156.20" fill="none" stroke="#a3a3a3" stroke-width="1.15"/>
<text x="230.30" y="382.00" font-size="8.8" fill="#111" stroke="#111">(O)</text>
</g>
<g>
<rect x="304.60" y="374.60" width="71.20" height="156.20" fill="#fff"/>
<line x1="319.00" y1="374.60" x2="319.00" y2="530.80" stroke="#f0f0f0" stroke-width="0.8"/>
<line x1="343.20" y1="374.60" x2="343.20" y2="530.80" stroke="#f0f0f0" stroke-width="0.8"/>
<line x1="367.40" y1="374.60" x2="367.40" y2="530.80" stroke="#f0f0f0" stroke-width="0.8"/>
<line x1="306.90" y1="374.60" x2="306.90" y2="530.80" stroke="#e8e8e8" stroke-width="0.9"/>
<line x1="331.10" y1="374.60" x2="331.10" y2="530.80" stroke="#e8e8e8" stroke-width="0.9"/>
<line x1="355.30" y1="374.60" x2="355.30" y2="530.80" stroke="#e8e8e8" stroke-width="0.9"/>
<line x1="304.60" y1="389.67" x2="375.80" y2="389.67" stroke="#e8e8e8" stroke-width="0.9"/>
<line x1="304.60" y1="414.99" x2="375.80" y2="414.99" stroke="#e8e8e8" stroke-width="0.9"/>
<line x1="304.60" y1="440.31" x2="375.80" y2="440.31" stroke="#e8e8e8" stroke-width="0.9"/>
<line x1="304.60" y1="465.63" x2="375.80" y2="465.63" stroke="#e8e8e8" stroke-width="0.9"/>
<line x1="304.60" y1="490.95" x2="375.80" y2="490.95" stroke="#e8e8e8" stroke-width="0.9"/>
<line x1="304.60" y1="516.27" x2="375.80" y2="516.27" stroke="#e8e8e8" stroke-width="0.9"/>
<g>
<path d="M339.60 386.07l3.6 3.6l-3.6 3.6l-3.6 -3.6z" fill="#26f026"/>
<path d="M340.00 386.07l3.6 3.6l-3.6 3.6l-3.6 -3.6z" fill="#bea16c" fill-opacity="0.85"/>
<path d="M337.30 386.07l3.6 3.6l-3.6 3.6l-3.6 -3.6z" fill="#3653cf"/>
<path d="M341.40 386.07l3.6 3.6l-3.6 3.6l-3.6 -3.6z" fill="#cf0a6e"/>
<path d="M323.20 411.39l3.6 3.6l-3.6 3.6l-3.6 -3.6z" fill="#26f026"/>
<path d="M348.00 411.39l3.6 3.6l-3.6 3.6l-3.6 -3.6z" fill="#bea16c" fill-opacity="0.85"/>
<path d="M341.70 411.39l3.6 3.6l-3.6 3.6l-3.6 -3.6z" fill="#3653cf"/>
<path d="M343.10 411.39l3.6 3.6l-3.6 3.6l-3.6 -3.6z" fill="#cf0a6e"/>
<path d="M334.80 436.71l3.6 3.6l-3.6 3.6l-3.6 -3.6z" fill="#bea16c" fill-opacity="0.85"/>
<path d="M335.80 436.71l3.6 3.6l-3.6 3.6l-3.6 -3.6z" fill="#3653cf"/>
<path d="M340.70 436.71l3.6 3.6l-3.6 3.6l-3.6 -3.6z" fill="#26f026"/>
<path d="M342.80 436.71l3.6 3.6l-3.6 3.6l-3.6 -3.6z" fill="#cf0a6e"/>
<path d="M342.80 462.03l3.6 3.6l-3.6 3.6l-3.6 -3.6z" fill="#26f026"/>
<path d="M348.70 462.03l3.6 3.6l-3.6 3.6l-3.6 -3.6z" fill="#bea16c" fill-opacity="0.85"/>
<path d="M344.60 462.03l3.6 3.6l-3.6 3.6l-3.6 -3.6z" fill="#3653cf"/>
<path d="M353.40 462.03l3.6 3.6l-3.6 3.6l-3.6 -3.6z" fill="#cf0a6e"/>
<path d="M337.70 487.35l3.6 3.6l-3.6 3.6l-3.6 -3.6z" fill="#26f026"/>
<path d="M346.50 487.35l3.6 3.6l-3.6 3.6l-3.6 -3.6z" fill="#bea16c" fill-opacity="0.85"/>
<path d="M339.60 487.35l3.6 3.6l-3.6 3.6l-3.6 -3.6z" fill="#3653cf"/>
<path d="M342.60 487.35l3.6 3.6l-3.6 3.6l-3.6 -3.6z" fill="#cf0a6e"/>
<path d="M333.80 512.67l3.6 3.6l-3.6 3.6l-3.6 -3.6z" fill="#26f026"/>
<path d="M344.30 512.67l3.6 3.6l-3.6 3.6l-3.6 -3.6z" fill="#bea16c" fill-opacity="0.85"/>
<path d="M351.60 512.67l3.6 3.6l-3.6 3.6l-3.6 -3.6z" fill="#3653cf"/>
<path d="M340.70 512.67l3.6 3.6l-3.6 3.6l-3.6 -3.6z" fill="#cf0a6e"/>
</g>
<rect x="304.60" y="374.60" width="71.20" height="156.20" fill="none" stroke="#a3a3a3" stroke-width="1.15"/>
<text x="305.60" y="382.00" font-size="8.8" fill="#111" stroke="#111">(P)</text>
</g>
<g>
<rect x="380.00" y="374.60" width="71.20" height="156.20" fill="#fff"/>
<line x1="382.62" y1="374.60" x2="382.62" y2="530.80" stroke="#f0f0f0" stroke-width="0.8"/>
<line x1="396.58" y1="374.60" x2="396.58" y2="530.80" stroke="#f0f0f0" stroke-width="0.8"/>
<line x1="410.53" y1="374.60" x2="410.53" y2="530.80" stroke="#f0f0f0" stroke-width="0.8"/>
<line x1="424.48" y1="374.60" x2="424.48" y2="530.80" stroke="#f0f0f0" stroke-width="0.8"/>
<line x1="438.43" y1="374.60" x2="438.43" y2="530.80" stroke="#f0f0f0" stroke-width="0.8"/>
<line x1="389.60" y1="374.60" x2="389.60" y2="530.80" stroke="#e8e8e8" stroke-width="0.9"/>
<line x1="403.55" y1="374.60" x2="403.55" y2="530.80" stroke="#e8e8e8" stroke-width="0.9"/>
<line x1="417.50" y1="374.60" x2="417.50" y2="530.80" stroke="#e8e8e8" stroke-width="0.9"/>
<line x1="431.45" y1="374.60" x2="431.45" y2="530.80" stroke="#e8e8e8" stroke-width="0.9"/>
<line x1="445.40" y1="374.60" x2="445.40" y2="530.80" stroke="#e8e8e8" stroke-width="0.9"/>
<line x1="380.00" y1="389.67" x2="451.20" y2="389.67" stroke="#e8e8e8" stroke-width="0.9"/>
<line x1="380.00" y1="414.99" x2="451.20" y2="414.99" stroke="#e8e8e8" stroke-width="0.9"/>
<line x1="380.00" y1="440.31" x2="451.20" y2="440.31" stroke="#e8e8e8" stroke-width="0.9"/>
<line x1="380.00" y1="465.63" x2="451.20" y2="465.63" stroke="#e8e8e8" stroke-width="0.9"/>
<line x1="380.00" y1="490.95" x2="451.20" y2="490.95" stroke="#e8e8e8" stroke-width="0.9"/>
<line x1="380.00" y1="516.27" x2="451.20" y2="516.27" stroke="#e8e8e8" stroke-width="0.9"/>
<g>
<path d="M407.20 386.07l3.6 3.6l-3.6 3.6l-3.6 -3.6z" fill="#26f026"/>
<path d="M416.70 386.07l3.6 3.6l-3.6 3.6l-3.6 -3.6z" fill="#bea16c" fill-opacity="0.85"/>
<path d="M422.50 386.07l3.6 3.6l-3.6 3.6l-3.6 -3.6z" fill="#3653cf"/>
<path d="M421.80 386.07l3.6 3.6l-3.6 3.6l-3.6 -3.6z" fill="#cf0a6e"/>
<path d="M416.20 411.39l3.6 3.6l-3.6 3.6l-3.6 -3.6z" fill="#26f026"/>
<path d="M421.80 411.39l3.6 3.6l-3.6 3.6l-3.6 -3.6z" fill="#bea16c" fill-opacity="0.85"/>
<path d="M411.30 411.39l3.6 3.6l-3.6 3.6l-3.6 -3.6z" fill="#3653cf"/>
<path d="M419.60 411.39l3.6 3.6l-3.6 3.6l-3.6 -3.6z" fill="#cf0a6e"/>
<path d="M421.00 436.71l3.6 3.6l-3.6 3.6l-3.6 -3.6z" fill="#26f026"/>
<path d="M432.70 436.71l3.6 3.6l-3.6 3.6l-3.6 -3.6z" fill="#bea16c" fill-opacity="0.85"/>
<path d="M428.30 436.71l3.6 3.6l-3.6 3.6l-3.6 -3.6z" fill="#3653cf"/>
<path d="M425.00 436.71l3.6 3.6l-3.6 3.6l-3.6 -3.6z" fill="#cf0a6e"/>
<path d="M411.80 462.03l3.6 3.6l-3.6 3.6l-3.6 -3.6z" fill="#bea16c" fill-opacity="0.85"/>
<path d="M416.70 462.03l3.6 3.6l-3.6 3.6l-3.6 -3.6z" fill="#26f026"/>
<path d="M415.60 462.03l3.6 3.6l-3.6 3.6l-3.6 -3.6z" fill="#3653cf"/>
<path d="M424.40 462.03l3.6 3.6l-3.6 3.6l-3.6 -3.6z" fill="#cf0a6e"/>
<path d="M420.50 487.35l3.6 3.6l-3.6 3.6l-3.6 -3.6z" fill="#26f026"/>
<path d="M418.80 487.35l3.6 3.6l-3.6 3.6l-3.6 -3.6z" fill="#bea16c" fill-opacity="0.85"/>
<path d="M425.00 487.35l3.6 3.6l-3.6 3.6l-3.6 -3.6z" fill="#3653cf"/>
<path d="M421.80 487.35l3.6 3.6l-3.6 3.6l-3.6 -3.6z" fill="#cf0a6e"/>
<path d="M412.30 512.67l3.6 3.6l-3.6 3.6l-3.6 -3.6z" fill="#26f026"/>
<path d="M409.40 512.67l3.6 3.6l-3.6 3.6l-3.6 -3.6z" fill="#bea16c" fill-opacity="0.85"/>
<path d="M405.70 512.67l3.6 3.6l-3.6 3.6l-3.6 -3.6z" fill="#3653cf"/>
<path d="M415.20 512.67l3.6 3.6l-3.6 3.6l-3.6 -3.6z" fill="#cf0a6e"/>
</g>
<rect x="380.00" y="374.60" width="71.20" height="156.20" fill="none" stroke="#a3a3a3" stroke-width="1.15"/>
<text x="381.00" y="382.00" font-size="8.8" fill="#111" stroke="#111">(Q)</text>
</g>
<g>
<rect x="455.40" y="374.60" width="71.20" height="156.20" fill="#fff"/>
<line x1="464.92" y1="374.60" x2="464.92" y2="530.80" stroke="#f0f0f0" stroke-width="0.8"/>
<line x1="481.96" y1="374.60" x2="481.96" y2="530.80" stroke="#f0f0f0" stroke-width="0.8"/>
<line x1="499.00" y1="374.60" x2="499.00" y2="530.80" stroke="#f0f0f0" stroke-width="0.8"/>
<line x1="516.04" y1="374.60" x2="516.04" y2="530.80" stroke="#f0f0f0" stroke-width="0.8"/>
<line x1="456.40" y1="374.60" x2="456.40" y2="530.80" stroke="#e8e8e8" stroke-width="0.9"/>
<line x1="473.44" y1="374.60" x2="473.44" y2="530.80" stroke="#e8e8e8" stroke-width="0.9"/>
<line x1="490.48" y1="374.60" x2="490.48" y2="530.80" stroke="#e8e8e8" stroke-width="0.9"/>
<line x1="507.52" y1="374.60" x2="507.52" y2="530.80" stroke="#e8e8e8" stroke-width="0.9"/>
<line x1="524.56" y1="374.60" x2="524.56" y2="530.80" stroke="#e8e8e8" stroke-width="0.9"/>
<line x1="455.40" y1="389.67" x2="526.60" y2="389.67" stroke="#e8e8e8" stroke-width="0.9"/>
<line x1="455.40" y1="414.99" x2="526.60" y2="414.99" stroke="#e8e8e8" stroke-width="0.9"/>
<line x1="455.40" y1="440.31" x2="526.60" y2="440.31" stroke="#e8e8e8" stroke-width="0.9"/>
<line x1="455.40" y1="465.63" x2="526.60" y2="465.63" stroke="#e8e8e8" stroke-width="0.9"/>
<line x1="455.40" y1="490.95" x2="526.60" y2="490.95" stroke="#e8e8e8" stroke-width="0.9"/>
<line x1="455.40" y1="516.27" x2="526.60" y2="516.27" stroke="#e8e8e8" stroke-width="0.9"/>
<g>
<path d="M481.20 386.07l3.6 3.6l-3.6 3.6l-3.6 -3.6z" fill="#26f026"/>
<path d="M496.00 386.07l3.6 3.6l-3.6 3.6l-3.6 -3.6z" fill="#bea16c" fill-opacity="0.85"/>
<path d="M501.10 386.07l3.6 3.6l-3.6 3.6l-3.6 -3.6z" fill="#3653cf"/>
<path d="M497.90 386.07l3.6 3.6l-3.6 3.6l-3.6 -3.6z" fill="#cf0a6e"/>
<path d="M475.30 411.39l3.6 3.6l-3.6 3.6l-3.6 -3.6z" fill="#26f026"/>
<path d="M501.60 411.39l3.6 3.6l-3.6 3.6l-3.6 -3.6z" fill="#bea16c" fill-opacity="0.85"/>
<path d="M483.90 411.39l3.6 3.6l-3.6 3.6l-3.6 -3.6z" fill="#3653cf"/>
<path d="M495.30 411.39l3.6 3.6l-3.6 3.6l-3.6 -3.6z" fill="#cf0a6e"/>
<path d="M499.70 436.71l3.6 3.6l-3.6 3.6l-3.6 -3.6z" fill="#26f026"/>
<path d="M512.50 436.71l3.6 3.6l-3.6 3.6l-3.6 -3.6z" fill="#bea16c" fill-opacity="0.85"/>
<path d="M507.30 436.71l3.6 3.6l-3.6 3.6l-3.6 -3.6z" fill="#3653cf"/>
<path d="M508.40 436.71l3.6 3.6l-3.6 3.6l-3.6 -3.6z" fill="#cf0a6e"/>
<path d="M490.60 462.03l3.6 3.6l-3.6 3.6l-3.6 -3.6z" fill="#26f026"/>
<path d="M489.20 462.03l3.6 3.6l-3.6 3.6l-3.6 -3.6z" fill="#bea16c" fill-opacity="0.85"/>
<path d="M495.30 462.03l3.6 3.6l-3.6 3.6l-3.6 -3.6z" fill="#3653cf"/>
<path d="M513.20 462.03l3.6 3.6l-3.6 3.6l-3.6 -3.6z" fill="#cf0a6e"/>
<path d="M504.00 487.35l3.6 3.6l-3.6 3.6l-3.6 -3.6z" fill="#bea16c" fill-opacity="0.85"/>
<path d="M506.70 487.35l3.6 3.6l-3.6 3.6l-3.6 -3.6z" fill="#26f026"/>
<path d="M505.80 487.35l3.6 3.6l-3.6 3.6l-3.6 -3.6z" fill="#3653cf"/>
<path d="M502.30 487.35l3.6 3.6l-3.6 3.6l-3.6 -3.6z" fill="#cf0a6e"/>
<path d="M478.10 512.67l3.6 3.6l-3.6 3.6l-3.6 -3.6z" fill="#26f026"/>
<path d="M482.20 512.67l3.6 3.6l-3.6 3.6l-3.6 -3.6z" fill="#bea16c" fill-opacity="0.85"/>
<path d="M483.60 512.67l3.6 3.6l-3.6 3.6l-3.6 -3.6z" fill="#3653cf"/>
<path d="M486.80 512.67l3.6 3.6l-3.6 3.6l-3.6 -3.6z" fill="#cf0a6e"/>
</g>
<rect x="455.40" y="374.60" width="71.20" height="156.20" fill="none" stroke="#a3a3a3" stroke-width="1.15"/>
<text x="456.40" y="382.00" font-size="8.8" fill="#111" stroke="#111">(R)</text>
</g>
<line x1="75.8" y1="389.67" x2="78.5" y2="389.67" stroke="#333" stroke-width="0.9"/>
<text x="74.3" y="392.12" font-size="6.67" fill="#1a1a1a" stroke="#1a1a1a" text-anchor="end">XGBoost</text>
<line x1="75.8" y1="414.99" x2="78.5" y2="414.99" stroke="#333" stroke-width="0.9"/>
<text x="74.3" y="417.44" font-size="6.67" fill="#1a1a1a" stroke="#1a1a1a" text-anchor="end">SVM</text>
<line x1="75.8" y1="440.31" x2="78.5" y2="440.31" stroke="#333" stroke-width="0.9"/>
<text x="74.3" y="442.76" font-size="6.67" fill="#1a1a1a" stroke="#1a1a1a" text-anchor="end">Random Forest</text>
<line x1="75.8" y1="465.63" x2="78.5" y2="465.63" stroke="#333" stroke-width="0.9"/>
<text x="74.3" y="468.08" font-size="6.67" fill="#1a1a1a" stroke="#1a1a1a" text-anchor="end">Logistic Regression</text>
<line x1="75.8" y1="490.95" x2="78.5" y2="490.95" stroke="#333" stroke-width="0.9"/>
<text x="74.3" y="493.40" font-size="6.67" fill="#1a1a1a" stroke="#1a1a1a" text-anchor="end">Gradient Boost</text>
<line x1="75.8" y1="516.27" x2="78.5" y2="516.27" stroke="#333" stroke-width="0.9"/>
<text x="74.3" y="518.72" font-size="6.67" fill="#1a1a1a" stroke="#1a1a1a" text-anchor="end">Decision Trees</text>
<rect x="78.50" y="39.4" width="71.20" height="13.0" fill="#d5d5d5" stroke="#6a6a6a" stroke-width="0.8"/>
<line x1="78.10" y1="52.4" x2="150.10" y2="52.4" stroke="#3c3c3c" stroke-width="0.9"/>
<text x="114.10" y="48.2" font-size="7.5" fill="#1a1a85" stroke="#1a1a85" style="stroke-width:0.3px" text-anchor="middle">AUROC_Train</text>
<rect x="153.90" y="39.4" width="71.20" height="13.0" fill="#d5d5d5" stroke="#6a6a6a" stroke-width="0.8"/>
<line x1="153.50" y1="52.4" x2="225.50" y2="52.4" stroke="#3c3c3c" stroke-width="0.9"/>
<text x="189.50" y="48.2" font-size="7.5" fill="#1a1a85" stroke="#1a1a85" style="stroke-width:0.3px" text-anchor="middle">AUROC</text>
<rect x="229.30" y="39.4" width="71.20" height="13.0" fill="#d5d5d5" stroke="#6a6a6a" stroke-width="0.8"/>
<line x1="228.90" y1="52.4" x2="300.90" y2="52.4" stroke="#3c3c3c" stroke-width="0.9"/>
<text x="264.90" y="48.2" font-size="7.5" fill="#1a1a85" stroke="#1a1a85" style="stroke-width:0.3px" text-anchor="middle">Precision</text>
<rect x="304.60" y="39.4" width="71.20" height="13.0" fill="#d5d5d5" stroke="#6a6a6a" stroke-width="0.8"/>
<line x1="304.20" y1="52.4" x2="376.20" y2="52.4" stroke="#3c3c3c" stroke-width="0.9"/>
<text x="340.20" y="48.2" font-size="7.5" fill="#1a1a85" stroke="#1a1a85" style="stroke-width:0.3px" text-anchor="middle">Sensitivity</text>
<rect x="380.00" y="39.4" width="71.20" height="13.0" fill="#d5d5d5" stroke="#6a6a6a" stroke-width="0.8"/>
<line x1="379.60" y1="52.4" x2="451.60" y2="52.4" stroke="#3c3c3c" stroke-width="0.9"/>
<text x="415.60" y="48.2" font-size="7.5" fill="#1a1a85" stroke="#1a1a85" style="stroke-width:0.3px" text-anchor="middle">Specificity</text>
<rect x="455.40" y="39.4" width="71.20" height="13.0" fill="#d5d5d5" stroke="#6a6a6a" stroke-width="0.8"/>
<line x1="455.00" y1="52.4" x2="527.00" y2="52.4" stroke="#3c3c3c" stroke-width="0.9"/>
<text x="491.00" y="48.2" font-size="7.5" fill="#1a1a85" stroke="#1a1a85" style="stroke-width:0.3px" text-anchor="middle">Accuracy</text>
<rect x="526.60" y="52.40" width="13.0" height="156.20" fill="#d5d5d5" stroke="#6a6a6a" stroke-width="0.8"/>
<line x1="526.60" y1="52.00" x2="526.60" y2="209.00" stroke="#3c3c3c" stroke-width="0.9"/>
<text x="0" y="0" font-size="7.5" fill="#1a1a85" stroke="#1a1a85" style="stroke-width:0.3px" text-anchor="middle" transform="translate(533.80 130.50) rotate(90) translate(0 2.7)">As-is</text>
<rect x="526.60" y="213.50" width="13.0" height="156.20" fill="#d5d5d5" stroke="#6a6a6a" stroke-width="0.8"/>
<line x1="526.60" y1="213.10" x2="526.60" y2="370.10" stroke="#3c3c3c" stroke-width="0.9"/>
<text x="0" y="0" font-size="7.5" fill="#1a1a85" stroke="#1a1a85" style="stroke-width:0.3px" text-anchor="middle" transform="translate(533.80 291.60) rotate(90) translate(0 2.7)">Down sampling</text>
<rect x="526.60" y="374.60" width="13.0" height="156.20" fill="#d5d5d5" stroke="#6a6a6a" stroke-width="0.8"/>
<line x1="526.60" y1="374.20" x2="526.60" y2="531.20" stroke="#3c3c3c" stroke-width="0.9"/>
<text x="0" y="0" font-size="7.5" fill="#1a1a85" stroke="#1a1a85" style="stroke-width:0.3px" text-anchor="middle" transform="translate(533.80 452.70) rotate(90) translate(0 2.7)">Up sampling</text>
<line x1="94.50" y1="531.10" x2="94.50" y2="533.40" stroke="#3a3a3a" stroke-width="0.8"/>
<text x="94.50" y="539.9" font-size="6.8" fill="#1a1a1a" stroke="#1a1a1a" text-anchor="middle">60</text>
<line x1="114.40" y1="531.10" x2="114.40" y2="533.40" stroke="#3a3a3a" stroke-width="0.8"/>
<text x="114.40" y="539.9" font-size="6.8" fill="#1a1a1a" stroke="#1a1a1a" text-anchor="middle">70</text>
<line x1="134.30" y1="531.10" x2="134.30" y2="533.40" stroke="#3a3a3a" stroke-width="0.8"/>
<text x="134.30" y="539.9" font-size="6.8" fill="#1a1a1a" stroke="#1a1a1a" text-anchor="middle">80</text>
<line x1="154.30" y1="531.10" x2="154.30" y2="533.40" stroke="#3a3a3a" stroke-width="0.8"/>
<text x="154.30" y="539.9" font-size="6.8" fill="#1a1a1a" stroke="#1a1a1a" text-anchor="middle">60</text>
<line x1="179.95" y1="531.10" x2="179.95" y2="533.40" stroke="#3a3a3a" stroke-width="0.8"/>
<text x="179.95" y="539.9" font-size="6.8" fill="#1a1a1a" stroke="#1a1a1a" text-anchor="middle">65</text>
<line x1="205.60" y1="531.10" x2="205.60" y2="533.40" stroke="#3a3a3a" stroke-width="0.8"/>
<text x="205.60" y="539.9" font-size="6.8" fill="#1a1a1a" stroke="#1a1a1a" text-anchor="middle">70</text>
<line x1="229.50" y1="531.10" x2="229.50" y2="533.40" stroke="#3a3a3a" stroke-width="0.8"/>
<text x="229.50" y="539.9" font-size="6.8" fill="#1a1a1a" stroke="#1a1a1a" text-anchor="middle">20</text>
<line x1="246.30" y1="531.10" x2="246.30" y2="533.40" stroke="#3a3a3a" stroke-width="0.8"/>
<text x="246.30" y="539.9" font-size="6.8" fill="#1a1a1a" stroke="#1a1a1a" text-anchor="middle">40</text>
<line x1="263.10" y1="531.10" x2="263.10" y2="533.40" stroke="#3a3a3a" stroke-width="0.8"/>
<text x="263.10" y="539.9" font-size="6.8" fill="#1a1a1a" stroke="#1a1a1a" text-anchor="middle">60</text>
<line x1="279.90" y1="531.10" x2="279.90" y2="533.40" stroke="#3a3a3a" stroke-width="0.8"/>
<text x="279.90" y="539.9" font-size="6.8" fill="#1a1a1a" stroke="#1a1a1a" text-anchor="middle">80</text>
<line x1="296.70" y1="531.10" x2="296.70" y2="533.40" stroke="#3a3a3a" stroke-width="0.8"/>
<text x="296.70" y="539.9" font-size="6.8" fill="#1a1a1a" stroke="#1a1a1a" text-anchor="middle">100</text>
<line x1="306.90" y1="531.10" x2="306.90" y2="533.40" stroke="#3a3a3a" stroke-width="0.8"/>
<text x="306.90" y="539.9" font-size="6.8" fill="#1a1a1a" stroke="#1a1a1a" text-anchor="middle">0</text>
<line x1="331.10" y1="531.10" x2="331.10" y2="533.40" stroke="#3a3a3a" stroke-width="0.8"/>
<text x="331.10" y="539.9" font-size="6.8" fill="#1a1a1a" stroke="#1a1a1a" text-anchor="middle">20</text>
<line x1="355.30" y1="531.10" x2="355.30" y2="533.40" stroke="#3a3a3a" stroke-width="0.8"/>
<text x="355.30" y="539.9" font-size="6.8" fill="#1a1a1a" stroke="#1a1a1a" text-anchor="middle">40</text>
<line x1="389.60" y1="531.10" x2="389.60" y2="533.40" stroke="#3a3a3a" stroke-width="0.8"/>
<text x="389.60" y="539.9" font-size="6.8" fill="#1a1a1a" stroke="#1a1a1a" text-anchor="middle">80</text>
<line x1="403.55" y1="531.10" x2="403.55" y2="533.40" stroke="#3a3a3a" stroke-width="0.8"/>
<text x="403.55" y="539.9" font-size="6.8" fill="#1a1a1a" stroke="#1a1a1a" text-anchor="middle">85</text>
<line x1="417.50" y1="531.10" x2="417.50" y2="533.40" stroke="#3a3a3a" stroke-width="0.8"/>
<text x="417.50" y="539.9" font-size="6.8" fill="#1a1a1a" stroke="#1a1a1a" text-anchor="middle">90</text>
<line x1="431.45" y1="531.10" x2="431.45" y2="533.40" stroke="#3a3a3a" stroke-width="0.8"/>
<text x="431.45" y="539.9" font-size="6.8" fill="#1a1a1a" stroke="#1a1a1a" text-anchor="middle">95</text>
<line x1="445.40" y1="531.10" x2="445.40" y2="533.40" stroke="#3a3a3a" stroke-width="0.8"/>
<text x="445.40" y="539.9" font-size="6.8" fill="#1a1a1a" stroke="#1a1a1a" text-anchor="middle">100</text>
<line x1="456.40" y1="531.10" x2="456.40" y2="533.40" stroke="#3a3a3a" stroke-width="0.8"/>
<text x="456.40" y="539.9" font-size="6.8" fill="#1a1a1a" stroke="#1a1a1a" text-anchor="middle">72</text>
<line x1="473.44" y1="531.10" x2="473.44" y2="533.40" stroke="#3a3a3a" stroke-width="0.8"/>
<text x="473.44" y="539.9" font-size="6.8" fill="#1a1a1a" stroke="#1a1a1a" text-anchor="middle">75</text>
<line x1="490.48" y1="531.10" x2="490.48" y2="533.40" stroke="#3a3a3a" stroke-width="0.8"/>
<text x="490.48" y="539.9" font-size="6.8" fill="#1a1a1a" stroke="#1a1a1a" text-anchor="middle">78</text>
<line x1="507.52" y1="531.10" x2="507.52" y2="533.40" stroke="#3a3a3a" stroke-width="0.8"/>
<text x="507.52" y="539.9" font-size="6.8" fill="#1a1a1a" stroke="#1a1a1a" text-anchor="middle">81</text>
<line x1="524.56" y1="531.10" x2="524.56" y2="533.40" stroke="#3a3a3a" stroke-width="0.8"/>
<text x="524.56" y="539.9" font-size="6.8" fill="#1a1a1a" stroke="#1a1a1a" text-anchor="middle">84</text>
</svg></body></html>
